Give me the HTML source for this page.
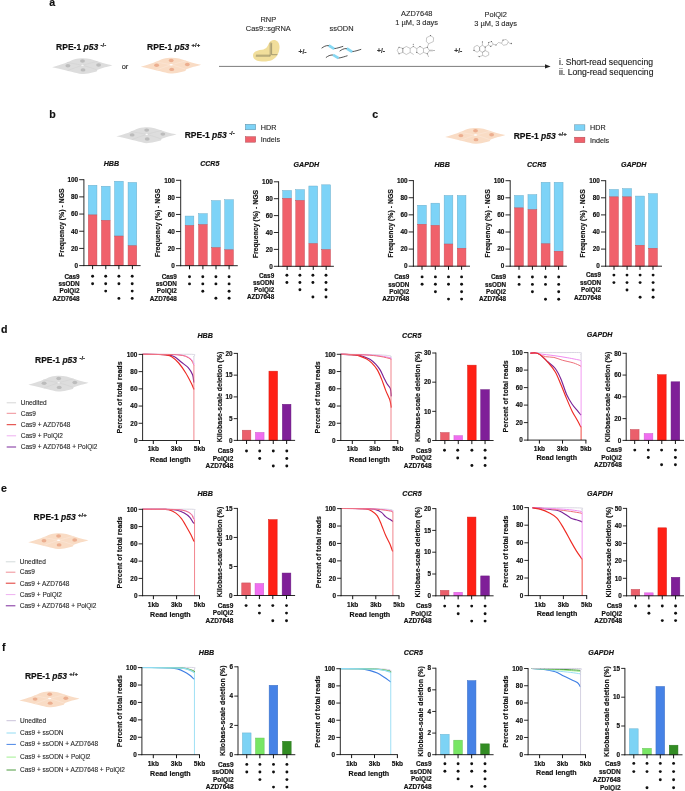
<!DOCTYPE html>
<html lang="en">
<head>
<meta charset="utf-8">
<title>Figure</title>
<style>html,body{margin:0;padding:0;background:#fff}svg{display:block}text{white-space:pre}</style>
</head>
<body>
<svg width="685" height="791" viewBox="0 0 685 791" font-family="'Liberation Sans', Arial, Helvetica, sans-serif" fill="#111111">
<rect width="685" height="791" fill="#ffffff"/>
<!-- panel a -->
<text x="49.2" y="5.9" font-size="10.6" font-weight="bold" stroke="#111111" stroke-width="0.17">a</text>
<text x="56.1" y="49.9" font-size="8.5" font-weight="bold" stroke="#111111" stroke-width="0.17">RPE-1 <tspan font-style="italic">p53</tspan> <tspan font-size="5.95" dy="-2.7">-/-</tspan></text>
<g transform="translate(82.5 65.9) scale(1.02)">
<path d="M-29.8 1.3 C-25 0 -21 -1.2 -17.9 -2.3 C-14 -3.8 -10.5 -5.6 -7.7 -6.5 C-5 -7.3 -2 -7.5 0.5 -7.5 C3 -7.5 5.5 -7.2 7.7 -6.7 C12 -5.6 16 -4 19.9 -2.8 C23 -1.9 26 -1.2 29.3 -0.7 C26.5 0.2 24 0.8 22 1.3 C19.5 2 17 2.9 14.8 3.7 C14.3 4.4 14.2 4.9 13.8 5.4 C12 6 9.8 6.5 7.7 6.9 C5 7.5 2 8 -0.5 8 C-4 7.6 -7.5 6.6 -10.7 5.7 C-13 5.1 -15.5 4.4 -17.9 3.9 C-22 3 -26 2.1 -29.8 1.3Z" fill="#dddddd"/>
<path d="M-15 -3.4 C-9 -2.2 -3.5 -1.4 0 -0.6 C5 0.6 9.5 2.2 14 3.8 M14.5 -4.4 C9.5 -3.2 4 -1.8 0 -0.6 C-4.5 0.8 -9.5 2.6 -14.5 4.5" fill="none" stroke="#d3d3d3" stroke-width="0.7"/>
<ellipse cx="0.0" cy="-4.8" rx="2.4" ry="1.65" fill="#bcbcbc"/>
<ellipse cx="-14.3" cy="-0.1" rx="2.4" ry="1.65" fill="#bcbcbc"/>
<ellipse cx="15.8" cy="-0.9" rx="2.4" ry="1.65" fill="#bcbcbc"/>
<ellipse cx="0.5" cy="3.9" rx="2.4" ry="1.65" fill="#bcbcbc"/>
<ellipse cx="0" cy="-0.65" rx="1.3" ry="0.6" fill="#ffffff"/>
</g>
<text x="125" y="69" font-size="7.5" text-anchor="middle" fill="#2a2a2a" stroke="#2a2a2a" stroke-width="0.12">or</text>
<text x="147.1" y="49.8" font-size="8.5" font-weight="bold" stroke="#111111" stroke-width="0.17">RPE-1 <tspan font-style="italic">p53</tspan> <tspan font-size="5.95" dy="-2.7">+/+</tspan></text>
<g transform="translate(171.2 65.4) scale(1.02)">
<path d="M-29.8 1.3 C-25 0 -21 -1.2 -17.9 -2.3 C-14 -3.8 -10.5 -5.6 -7.7 -6.5 C-5 -7.3 -2 -7.5 0.5 -7.5 C3 -7.5 5.5 -7.2 7.7 -6.7 C12 -5.6 16 -4 19.9 -2.8 C23 -1.9 26 -1.2 29.3 -0.7 C26.5 0.2 24 0.8 22 1.3 C19.5 2 17 2.9 14.8 3.7 C14.3 4.4 14.2 4.9 13.8 5.4 C12 6 9.8 6.5 7.7 6.9 C5 7.5 2 8 -0.5 8 C-4 7.6 -7.5 6.6 -10.7 5.7 C-13 5.1 -15.5 4.4 -17.9 3.9 C-22 3 -26 2.1 -29.8 1.3Z" fill="#f9dcc5"/>
<path d="M-15 -3.4 C-9 -2.2 -3.5 -1.4 0 -0.6 C5 0.6 9.5 2.2 14 3.8 M14.5 -4.4 C9.5 -3.2 4 -1.8 0 -0.6 C-4.5 0.8 -9.5 2.6 -14.5 4.5" fill="none" stroke="#fbe6d6" stroke-width="0.7"/>
<ellipse cx="0.0" cy="-4.8" rx="2.4" ry="1.65" fill="#ecae8f"/>
<ellipse cx="-14.3" cy="-0.1" rx="2.4" ry="1.65" fill="#ecae8f"/>
<ellipse cx="15.8" cy="-0.9" rx="2.4" ry="1.65" fill="#ecae8f"/>
<ellipse cx="0.5" cy="3.9" rx="2.4" ry="1.65" fill="#ecae8f"/>
<ellipse cx="0" cy="-0.65" rx="1.6" ry="0.75" fill="#ffffff"/>
</g>
<line x1="219" y1="66.4" x2="546" y2="66.4" stroke="#444" stroke-width="0.7"/>
<path d="M550.6 66.4 L545 64.2 L545 68.6Z" fill="#222"/>
<text x="268.3" y="21.7" font-size="7.45" text-anchor="middle" fill="#2a2a2a" stroke="#2a2a2a" stroke-width="0.12">RNP</text>
<text x="268.3" y="30.7" font-size="7.45" text-anchor="middle" fill="#2a2a2a" stroke="#2a2a2a" stroke-width="0.12">Cas9::sgRNA</text>
<path d="M253 55.5 C253 51.5 257.5 50.3 262 49.8 C266.5 49.2 267.6 46.4 268.8 43.6 C270 40.6 273.2 39.3 276 40.4 C279.2 41.7 280 45.6 279.3 49.6 C278.6 54 276.4 58 272.2 60 C267.5 62 260.5 61.8 256.6 60.4 C254.2 59.4 253 57.7 253 55.5Z" fill="#f1de9b"/>
<path d="M255.8 56.1 H270.2 V43.4 Q270.9 42.0 271.6 43.4 V54.7 H277.4" fill="none" stroke="#5a5848" stroke-width="0.5"/>
<path d="M256 55.1 H269.4" fill="none" stroke="#7a744e" stroke-width="1.0" stroke-dasharray="0.45 0.55"/>
<text x="302.5" y="53.6" font-size="6.8" font-weight="bold" text-anchor="middle" fill="#3a3a3a" stroke="#3a3a3a" stroke-width="0.17">+/-</text>
<text x="341.6" y="30.7" font-size="7.45" text-anchor="middle" fill="#2a2a2a" stroke="#2a2a2a" stroke-width="0.12">ssODN</text>
<path d="M321.6 48.2 C323.6 46.8 325.6 45.3 329 45.6" fill="none" stroke="#2a2a2a" stroke-width="0.8"/>
<path d="M334 48.7 C337.6 48.2 340.6 47.1 343.2 46.3" fill="none" stroke="#2a2a2a" stroke-width="0.8"/>
<path d="M328.8 45.5 L334.2 48.8" fill="none" stroke="#86d8f3" stroke-width="2.7"/>
<path d="M339.6 51.2 C341.6 49.8 343.6 48.3 347 48.6" fill="none" stroke="#2a2a2a" stroke-width="0.8"/>
<path d="M352 51.7 C355.6 51.2 358.6 50.1 361.2 49.3" fill="none" stroke="#2a2a2a" stroke-width="0.8"/>
<path d="M346.8 48.5 L352.2 51.8" fill="none" stroke="#86d8f3" stroke-width="2.7"/>
<path d="M325.9 57.6 C327.9 56.2 329.9 54.7 333.3 55" fill="none" stroke="#2a2a2a" stroke-width="0.8"/>
<path d="M338.3 58.1 C341.9 57.6 344.9 56.5 347.5 55.7" fill="none" stroke="#2a2a2a" stroke-width="0.8"/>
<path d="M333.1 54.9 L338.5 58.2" fill="none" stroke="#86d8f3" stroke-width="2.7"/>
<text x="381" y="53.4" font-size="6.8" font-weight="bold" text-anchor="middle" fill="#3a3a3a" stroke="#3a3a3a" stroke-width="0.17">+/-</text>
<text x="416.7" y="16" font-size="7.45" text-anchor="middle" fill="#2a2a2a" stroke="#2a2a2a" stroke-width="0.12">AZD7648</text>
<text x="416.7" y="24.5" font-size="7.45" text-anchor="middle" fill="#2a2a2a" stroke="#2a2a2a" stroke-width="0.12">1 µM, 3 days</text>
<path d="M397.2 50.3 L399 47.2 L402.8 48.4 L402.8 52.4 L399 53.8Z" fill="none" stroke="#7a7a7a" stroke-width="0.42" stroke-linejoin="round"/>
<path d="M402.8 48.4 L406.3 46.5 L410.2 48.4 L410.2 52.4 L406.3 54.5 L402.8 52.4Z" fill="none" stroke="#7a7a7a" stroke-width="0.42" stroke-linejoin="round"/>
<path d="M410.2 52.4 L413.7 54.5" fill="none" stroke="#7a7a7a" stroke-width="0.42" stroke-linejoin="round"/>
<path d="M410.2 48.4 L413.3 46.5 L416.8 48.6" fill="none" stroke="#7a7a7a" stroke-width="0.42" stroke-linejoin="round"/>
<path d="M416.8 48.6 L420 46.5 L423.5 48.6 L423.5 52.4 L420 54.5 L416.8 52.4Z" fill="none" stroke="#7a7a7a" stroke-width="0.42" stroke-linejoin="round"/>
<path d="M423.5 48.6 L427.3 47.2 L429.4 50.5 L427.3 53.8 L423.5 52.4" fill="none" stroke="#7a7a7a" stroke-width="0.42" stroke-linejoin="round"/>
<path d="M429.4 50.2 L432.9 50.2" fill="none" stroke="#7a7a7a" stroke-width="0.42" stroke-linejoin="round"/>
<path d="M429.4 50.9 L432.9 50.9" fill="none" stroke="#7a7a7a" stroke-width="0.42" stroke-linejoin="round"/>
<path d="M427.3 53.8 L428.7 57" fill="none" stroke="#7a7a7a" stroke-width="0.42" stroke-linejoin="round"/>
<path d="M427.3 47.2 L428.7 43.7" fill="none" stroke="#7a7a7a" stroke-width="0.42" stroke-linejoin="round"/>
<path d="M428.7 43.7 L426.3 41.6 L426.6 37.7 L430.5 35.6 L433.6 37.7 L433.3 41.6Z" fill="none" stroke="#7a7a7a" stroke-width="0.42" stroke-linejoin="round"/>
<circle cx="399" cy="47.2" r="0.55" fill="#5e5e5e"/>
<circle cx="399" cy="53.8" r="0.55" fill="#5e5e5e"/>
<circle cx="402.9" cy="48.5" r="0.55" fill="#5e5e5e"/>
<circle cx="413.3" cy="46.3" r="0.55" fill="#5e5e5e"/>
<circle cx="413.3" cy="44.3" r="0.55" fill="#5e5e5e"/>
<circle cx="420" cy="46.5" r="0.55" fill="#5e5e5e"/>
<circle cx="416.8" cy="52.4" r="0.55" fill="#5e5e5e"/>
<circle cx="427.3" cy="47.2" r="0.55" fill="#5e5e5e"/>
<circle cx="427.3" cy="53.8" r="0.55" fill="#5e5e5e"/>
<circle cx="434" cy="50.5" r="0.55" fill="#5e5e5e"/>
<circle cx="430.5" cy="35.6" r="0.55" fill="#5e5e5e"/>
<text x="458.3" y="53.4" font-size="6.8" font-weight="bold" text-anchor="middle" fill="#3a3a3a" stroke="#3a3a3a" stroke-width="0.17">+/-</text>
<text x="495.7" y="17.4" font-size="7.45" text-anchor="middle" fill="#2a2a2a" stroke="#2a2a2a" stroke-width="0.12">PolQi2</text>
<text x="495.7" y="25.7" font-size="7.45" text-anchor="middle" fill="#2a2a2a" stroke="#2a2a2a" stroke-width="0.12">3 µM, 3 days</text>
<path d="M474 47.1 L477.1 45.3 L479.6 47.1 L479.6 50.6 L477.1 52.2 L474 50.4Z" fill="none" stroke="#7a7a7a" stroke-width="0.42" stroke-linejoin="round"/>
<path d="M479.6 47.1 L482.4 45.3 L485.2 47.1 L485.2 50.6 L482.4 52.3 L479.6 50.6Z" fill="none" stroke="#7a7a7a" stroke-width="0.42" stroke-linejoin="round"/>
<path d="M482.4 45.3 L482.4 42.4" fill="none" stroke="#7a7a7a" stroke-width="0.42" stroke-linejoin="round"/>
<path d="M482.4 52.3 L485.2 50.6 L488.7 52.3 L488.7 55.1 L485.5 56.6 L482.7 55.5Z" fill="none" stroke="#7a7a7a" stroke-width="0.42" stroke-linejoin="round"/>
<path d="M482.7 55.5 L479.6 56.6 L477.8 56.2" fill="none" stroke="#7a7a7a" stroke-width="0.42" stroke-linejoin="round"/>
<path d="M485.2 47.1 L488.3 45" fill="none" stroke="#7a7a7a" stroke-width="0.42" stroke-linejoin="round"/>
<path d="M488.3 45 L488.7 42.5 L491.5 41.5 L493.2 44.3 L490.8 46.4Z" fill="none" stroke="#7a7a7a" stroke-width="0.42" stroke-linejoin="round"/>
<path d="M493.2 44.3 L496 45 L498.5 42.5 L501.6 43.2" fill="none" stroke="#7a7a7a" stroke-width="0.42" stroke-linejoin="round"/>
<path d="M501.6 43.2 L503 40.1 L506.2 39.4 L508.3 41.8 L506.9 44.6 L503.4 45.3Z" fill="none" stroke="#7a7a7a" stroke-width="0.42" stroke-linejoin="round"/>
<path d="M508.3 42.3 L510 43.5" fill="none" stroke="#7a7a7a" stroke-width="0.42" stroke-linejoin="round"/>
<circle cx="474" cy="50.4" r="0.55" fill="#5e5e5e"/>
<circle cx="482.4" cy="41.9" r="0.55" fill="#5e5e5e"/>
<circle cx="485.2" cy="47.1" r="0.55" fill="#5e5e5e"/>
<circle cx="488.7" cy="42.5" r="0.55" fill="#5e5e5e"/>
<circle cx="491.5" cy="41.5" r="0.55" fill="#5e5e5e"/>
<circle cx="490.8" cy="46.4" r="0.55" fill="#5e5e5e"/>
<circle cx="496" cy="45" r="0.55" fill="#5e5e5e"/>
<circle cx="503" cy="40.1" r="0.55" fill="#5e5e5e"/>
<circle cx="479.3" cy="56.6" r="0.55" fill="#5e5e5e"/>
<circle cx="511.2" cy="43.6" r="0.75" fill="#5e5e5e"/>
<text x="559" y="64.9" font-size="8.65" fill="#222" stroke="#222" stroke-width="0.12">i. Short-read sequencing</text>
<text x="559" y="75.1" font-size="8.65" fill="#222" stroke="#222" stroke-width="0.12">ii. Long-read sequencing</text>
<!-- panel b -->
<text x="49.2" y="117.5" font-size="10.6" font-weight="bold" stroke="#111111" stroke-width="0.17">b</text>
<g transform="translate(146.7 135) scale(1.02)">
<path d="M-29.8 1.3 C-25 0 -21 -1.2 -17.9 -2.3 C-14 -3.8 -10.5 -5.6 -7.7 -6.5 C-5 -7.3 -2 -7.5 0.5 -7.5 C3 -7.5 5.5 -7.2 7.7 -6.7 C12 -5.6 16 -4 19.9 -2.8 C23 -1.9 26 -1.2 29.3 -0.7 C26.5 0.2 24 0.8 22 1.3 C19.5 2 17 2.9 14.8 3.7 C14.3 4.4 14.2 4.9 13.8 5.4 C12 6 9.8 6.5 7.7 6.9 C5 7.5 2 8 -0.5 8 C-4 7.6 -7.5 6.6 -10.7 5.7 C-13 5.1 -15.5 4.4 -17.9 3.9 C-22 3 -26 2.1 -29.8 1.3Z" fill="#dddddd"/>
<path d="M-15 -3.4 C-9 -2.2 -3.5 -1.4 0 -0.6 C5 0.6 9.5 2.2 14 3.8 M14.5 -4.4 C9.5 -3.2 4 -1.8 0 -0.6 C-4.5 0.8 -9.5 2.6 -14.5 4.5" fill="none" stroke="#d3d3d3" stroke-width="0.7"/>
<ellipse cx="0.0" cy="-4.8" rx="2.4" ry="1.65" fill="#bcbcbc"/>
<ellipse cx="-14.3" cy="-0.1" rx="2.4" ry="1.65" fill="#bcbcbc"/>
<ellipse cx="15.8" cy="-0.9" rx="2.4" ry="1.65" fill="#bcbcbc"/>
<ellipse cx="0.5" cy="3.9" rx="2.4" ry="1.65" fill="#bcbcbc"/>
<ellipse cx="0" cy="-0.65" rx="1.3" ry="0.6" fill="#ffffff"/>
</g>
<text x="184.7" y="137.7" font-size="8.5" font-weight="bold" stroke="#111111" stroke-width="0.17">RPE-1 <tspan font-style="italic">p53</tspan> <tspan font-size="5.95" dy="-2.7">-/-</tspan></text>
<rect x="245.4" y="124.3" width="10.3" height="5.5" fill="#7dd3f7" stroke="#567f93" stroke-width="0.45"/>
<text x="260.8" y="129.7" font-size="7.2" fill="#222" stroke="#222" stroke-width="0.12">HDR</text>
<rect x="245.4" y="136.7" width="10.3" height="5.5" fill="#f0616b" stroke="#a8464f" stroke-width="0.45"/>
<text x="260.8" y="142" font-size="7.2" fill="#222" stroke="#222" stroke-width="0.12">Indels</text>
<rect x="88.25" y="185.26" width="8.7" height="29.66" fill="#7dd3f7" stroke="#68a9c6" stroke-width="0.45"/>
<rect x="88.25" y="214.92" width="8.7" height="50.68" fill="#f0616b" stroke="#c4505a" stroke-width="0.45"/>
<rect x="101.45" y="186.21" width="8.7" height="34.12" fill="#7dd3f7" stroke="#68a9c6" stroke-width="0.45"/>
<rect x="101.45" y="220.33" width="8.7" height="45.27" fill="#f0616b" stroke="#c4505a" stroke-width="0.45"/>
<rect x="114.55" y="181.22" width="8.7" height="54.83" fill="#7dd3f7" stroke="#68a9c6" stroke-width="0.45"/>
<rect x="114.55" y="236.05" width="8.7" height="29.55" fill="#f0616b" stroke="#c4505a" stroke-width="0.45"/>
<rect x="128.05" y="182.43" width="8.7" height="63.33" fill="#7dd3f7" stroke="#68a9c6" stroke-width="0.45"/>
<rect x="128.05" y="245.76" width="8.7" height="19.84" fill="#f0616b" stroke="#c4505a" stroke-width="0.45"/>
<line x1="83.9" y1="179.25" x2="83.9" y2="266.05" stroke="#111111" stroke-width="0.9"/>
<line x1="83.45" y1="265.6" x2="140.6" y2="265.6" stroke="#111111" stroke-width="0.9"/>
<line x1="79.2" y1="265.6" x2="83.9" y2="265.6" stroke="#111111" stroke-width="0.9"/>
<text x="78.05" y="267.89" font-size="6.4" font-weight="bold" text-anchor="end" stroke="#111111" stroke-width="0.17">0</text>
<line x1="79.2" y1="248.42" x2="83.9" y2="248.42" stroke="#111111" stroke-width="0.9"/>
<text x="78.05" y="250.71" font-size="6.4" font-weight="bold" text-anchor="end" stroke="#111111" stroke-width="0.17">20</text>
<line x1="79.2" y1="231.24" x2="83.9" y2="231.24" stroke="#111111" stroke-width="0.9"/>
<text x="78.05" y="233.53" font-size="6.4" font-weight="bold" text-anchor="end" stroke="#111111" stroke-width="0.17">40</text>
<line x1="79.2" y1="214.06" x2="83.9" y2="214.06" stroke="#111111" stroke-width="0.9"/>
<text x="78.05" y="216.35" font-size="6.4" font-weight="bold" text-anchor="end" stroke="#111111" stroke-width="0.17">60</text>
<line x1="79.2" y1="196.88" x2="83.9" y2="196.88" stroke="#111111" stroke-width="0.9"/>
<text x="78.05" y="199.17" font-size="6.4" font-weight="bold" text-anchor="end" stroke="#111111" stroke-width="0.17">80</text>
<line x1="79.2" y1="179.7" x2="83.9" y2="179.7" stroke="#111111" stroke-width="0.9"/>
<text x="78.05" y="181.99" font-size="6.4" font-weight="bold" text-anchor="end" stroke="#111111" stroke-width="0.17">100</text>
<text x="63.55" y="222.65" font-size="6.9" font-weight="bold" text-anchor="middle" transform="rotate(-90 63.55 222.65)" stroke="#111111" stroke-width="0.17">Frequency (%) - NGS</text>
<line x1="92.6" y1="265.6" x2="92.6" y2="269.2" stroke="#111111" stroke-width="1"/>
<line x1="105.8" y1="265.6" x2="105.8" y2="269.2" stroke="#111111" stroke-width="1"/>
<line x1="118.9" y1="265.6" x2="118.9" y2="269.2" stroke="#111111" stroke-width="1"/>
<line x1="132.4" y1="265.6" x2="132.4" y2="269.2" stroke="#111111" stroke-width="1"/>
<text x="111.4" y="166.2" font-size="7.1" font-weight="bold" text-anchor="middle" font-style="italic" stroke="#111111" stroke-width="0.17">HBB</text>
<text x="79.6" y="278.57" font-size="6.35" font-weight="bold" text-anchor="end" stroke="#111111" stroke-width="0.17">Cas9</text>
<circle cx="92.6" cy="276.3" r="1.45" fill="#111"/>
<circle cx="105.7" cy="276.3" r="1.45" fill="#111"/>
<circle cx="118.9" cy="276.3" r="1.45" fill="#111"/>
<circle cx="132.2" cy="276.3" r="1.45" fill="#111"/>
<text x="79.6" y="285.97" font-size="6.35" font-weight="bold" text-anchor="end" stroke="#111111" stroke-width="0.17">ssODN</text>
<circle cx="92.6" cy="283.7" r="1.45" fill="#111"/>
<circle cx="105.7" cy="283.7" r="1.45" fill="#111"/>
<circle cx="118.9" cy="283.7" r="1.45" fill="#111"/>
<circle cx="132.2" cy="283.7" r="1.45" fill="#111"/>
<text x="79.6" y="293.37" font-size="6.35" font-weight="bold" text-anchor="end" stroke="#111111" stroke-width="0.17">PolQi2</text>
<circle cx="105.7" cy="291.1" r="1.45" fill="#111"/>
<circle cx="132.2" cy="291.1" r="1.45" fill="#111"/>
<text x="79.6" y="300.67" font-size="6.35" font-weight="bold" text-anchor="end" stroke="#111111" stroke-width="0.17">AZD7648</text>
<circle cx="118.9" cy="298.4" r="1.45" fill="#111"/>
<circle cx="132.2" cy="298.4" r="1.45" fill="#111"/>
<rect x="185.15" y="216.06" width="8.7" height="9.41" fill="#7dd3f7" stroke="#68a9c6" stroke-width="0.45"/>
<rect x="185.15" y="225.48" width="8.7" height="40.22" fill="#f0616b" stroke="#c4505a" stroke-width="0.45"/>
<rect x="198.55" y="213.67" width="8.7" height="10.95" fill="#7dd3f7" stroke="#68a9c6" stroke-width="0.45"/>
<rect x="198.55" y="224.62" width="8.7" height="41.08" fill="#f0616b" stroke="#c4505a" stroke-width="0.45"/>
<rect x="211.65" y="200.6" width="8.7" height="46.99" fill="#7dd3f7" stroke="#68a9c6" stroke-width="0.45"/>
<rect x="211.65" y="247.6" width="8.7" height="18.1" fill="#f0616b" stroke="#c4505a" stroke-width="0.45"/>
<rect x="224.75" y="199.75" width="8.7" height="50.07" fill="#7dd3f7" stroke="#68a9c6" stroke-width="0.45"/>
<rect x="224.75" y="249.82" width="8.7" height="15.88" fill="#f0616b" stroke="#c4505a" stroke-width="0.45"/>
<line x1="180.7" y1="179.85" x2="180.7" y2="266.15" stroke="#111111" stroke-width="0.9"/>
<line x1="180.25" y1="265.7" x2="237.8" y2="265.7" stroke="#111111" stroke-width="0.9"/>
<line x1="176" y1="265.7" x2="180.7" y2="265.7" stroke="#111111" stroke-width="0.9"/>
<text x="174.85" y="267.99" font-size="6.4" font-weight="bold" text-anchor="end" stroke="#111111" stroke-width="0.17">0</text>
<line x1="176" y1="248.62" x2="180.7" y2="248.62" stroke="#111111" stroke-width="0.9"/>
<text x="174.85" y="250.91" font-size="6.4" font-weight="bold" text-anchor="end" stroke="#111111" stroke-width="0.17">20</text>
<line x1="176" y1="231.54" x2="180.7" y2="231.54" stroke="#111111" stroke-width="0.9"/>
<text x="174.85" y="233.83" font-size="6.4" font-weight="bold" text-anchor="end" stroke="#111111" stroke-width="0.17">40</text>
<line x1="176" y1="214.46" x2="180.7" y2="214.46" stroke="#111111" stroke-width="0.9"/>
<text x="174.85" y="216.75" font-size="6.4" font-weight="bold" text-anchor="end" stroke="#111111" stroke-width="0.17">60</text>
<line x1="176" y1="197.38" x2="180.7" y2="197.38" stroke="#111111" stroke-width="0.9"/>
<text x="174.85" y="199.67" font-size="6.4" font-weight="bold" text-anchor="end" stroke="#111111" stroke-width="0.17">80</text>
<line x1="176" y1="180.3" x2="180.7" y2="180.3" stroke="#111111" stroke-width="0.9"/>
<text x="174.85" y="182.59" font-size="6.4" font-weight="bold" text-anchor="end" stroke="#111111" stroke-width="0.17">100</text>
<text x="160.35" y="223" font-size="6.9" font-weight="bold" text-anchor="middle" transform="rotate(-90 160.35 223)" stroke="#111111" stroke-width="0.17">Frequency (%) - NGS</text>
<line x1="189.5" y1="265.7" x2="189.5" y2="269.3" stroke="#111111" stroke-width="1"/>
<line x1="202.9" y1="265.7" x2="202.9" y2="269.3" stroke="#111111" stroke-width="1"/>
<line x1="216" y1="265.7" x2="216" y2="269.3" stroke="#111111" stroke-width="1"/>
<line x1="229.1" y1="265.7" x2="229.1" y2="269.3" stroke="#111111" stroke-width="1"/>
<text x="209.8" y="166.2" font-size="7.1" font-weight="bold" text-anchor="middle" font-style="italic" stroke="#111111" stroke-width="0.17">CCR5</text>
<text x="176.9" y="279.07" font-size="6.35" font-weight="bold" text-anchor="end" stroke="#111111" stroke-width="0.17">Cas9</text>
<circle cx="189.5" cy="276.8" r="1.45" fill="#111"/>
<circle cx="202.8" cy="276.8" r="1.45" fill="#111"/>
<circle cx="215.9" cy="276.8" r="1.45" fill="#111"/>
<circle cx="229.1" cy="276.8" r="1.45" fill="#111"/>
<text x="176.9" y="286.17" font-size="6.35" font-weight="bold" text-anchor="end" stroke="#111111" stroke-width="0.17">ssODN</text>
<circle cx="189.5" cy="283.9" r="1.45" fill="#111"/>
<circle cx="202.8" cy="283.9" r="1.45" fill="#111"/>
<circle cx="215.9" cy="283.9" r="1.45" fill="#111"/>
<circle cx="229.1" cy="283.9" r="1.45" fill="#111"/>
<text x="176.9" y="293.47" font-size="6.35" font-weight="bold" text-anchor="end" stroke="#111111" stroke-width="0.17">PolQi2</text>
<circle cx="202.8" cy="291.2" r="1.45" fill="#111"/>
<circle cx="229.1" cy="291.2" r="1.45" fill="#111"/>
<text x="176.9" y="300.57" font-size="6.35" font-weight="bold" text-anchor="end" stroke="#111111" stroke-width="0.17">AZD7648</text>
<circle cx="215.9" cy="298.3" r="1.45" fill="#111"/>
<circle cx="229.1" cy="298.3" r="1.45" fill="#111"/>
<rect x="282.75" y="190.48" width="8.8" height="7.88" fill="#7dd3f7" stroke="#68a9c6" stroke-width="0.45"/>
<rect x="282.75" y="198.36" width="8.8" height="67.94" fill="#f0616b" stroke="#c4505a" stroke-width="0.45"/>
<rect x="295.75" y="189.64" width="8.8" height="10.75" fill="#7dd3f7" stroke="#68a9c6" stroke-width="0.45"/>
<rect x="295.75" y="200.39" width="8.8" height="65.91" fill="#f0616b" stroke="#c4505a" stroke-width="0.45"/>
<rect x="308.85" y="186.01" width="8.8" height="57.56" fill="#7dd3f7" stroke="#68a9c6" stroke-width="0.45"/>
<rect x="308.85" y="243.57" width="8.8" height="22.73" fill="#f0616b" stroke="#c4505a" stroke-width="0.45"/>
<rect x="321.75" y="184.82" width="8.8" height="64.75" fill="#7dd3f7" stroke="#68a9c6" stroke-width="0.45"/>
<rect x="321.75" y="249.57" width="8.8" height="16.73" fill="#f0616b" stroke="#c4505a" stroke-width="0.45"/>
<line x1="278.6" y1="181.35" x2="278.6" y2="266.75" stroke="#111111" stroke-width="0.9"/>
<line x1="278.15" y1="266.3" x2="333.9" y2="266.3" stroke="#111111" stroke-width="0.9"/>
<line x1="273.9" y1="266.3" x2="278.6" y2="266.3" stroke="#111111" stroke-width="0.9"/>
<text x="272.75" y="268.59" font-size="6.4" font-weight="bold" text-anchor="end" stroke="#111111" stroke-width="0.17">0</text>
<line x1="273.9" y1="249.4" x2="278.6" y2="249.4" stroke="#111111" stroke-width="0.9"/>
<text x="272.75" y="251.69" font-size="6.4" font-weight="bold" text-anchor="end" stroke="#111111" stroke-width="0.17">20</text>
<line x1="273.9" y1="232.5" x2="278.6" y2="232.5" stroke="#111111" stroke-width="0.9"/>
<text x="272.75" y="234.79" font-size="6.4" font-weight="bold" text-anchor="end" stroke="#111111" stroke-width="0.17">40</text>
<line x1="273.9" y1="215.6" x2="278.6" y2="215.6" stroke="#111111" stroke-width="0.9"/>
<text x="272.75" y="217.89" font-size="6.4" font-weight="bold" text-anchor="end" stroke="#111111" stroke-width="0.17">60</text>
<line x1="273.9" y1="198.7" x2="278.6" y2="198.7" stroke="#111111" stroke-width="0.9"/>
<text x="272.75" y="200.99" font-size="6.4" font-weight="bold" text-anchor="end" stroke="#111111" stroke-width="0.17">80</text>
<line x1="273.9" y1="181.8" x2="278.6" y2="181.8" stroke="#111111" stroke-width="0.9"/>
<text x="272.75" y="184.09" font-size="6.4" font-weight="bold" text-anchor="end" stroke="#111111" stroke-width="0.17">100</text>
<text x="258.25" y="224.05" font-size="6.9" font-weight="bold" text-anchor="middle" transform="rotate(-90 258.25 224.05)" stroke="#111111" stroke-width="0.17">Frequency (%) - NGS</text>
<line x1="287.15" y1="266.3" x2="287.15" y2="269.9" stroke="#111111" stroke-width="1"/>
<line x1="300.15" y1="266.3" x2="300.15" y2="269.9" stroke="#111111" stroke-width="1"/>
<line x1="313.25" y1="266.3" x2="313.25" y2="269.9" stroke="#111111" stroke-width="1"/>
<line x1="326.15" y1="266.3" x2="326.15" y2="269.9" stroke="#111111" stroke-width="1"/>
<text x="306.4" y="166.7" font-size="7.1" font-weight="bold" text-anchor="middle" font-style="italic" stroke="#111111" stroke-width="0.17">GAPDH</text>
<text x="274.2" y="277.57" font-size="6.35" font-weight="bold" text-anchor="end" stroke="#111111" stroke-width="0.17">Cas9</text>
<circle cx="286.9" cy="275.3" r="1.45" fill="#111"/>
<circle cx="299.9" cy="275.3" r="1.45" fill="#111"/>
<circle cx="312.9" cy="275.3" r="1.45" fill="#111"/>
<circle cx="326" cy="275.3" r="1.45" fill="#111"/>
<text x="274.2" y="284.77" font-size="6.35" font-weight="bold" text-anchor="end" stroke="#111111" stroke-width="0.17">ssODN</text>
<circle cx="286.9" cy="282.5" r="1.45" fill="#111"/>
<circle cx="299.9" cy="282.5" r="1.45" fill="#111"/>
<circle cx="312.9" cy="282.5" r="1.45" fill="#111"/>
<circle cx="326" cy="282.5" r="1.45" fill="#111"/>
<text x="274.2" y="292.07" font-size="6.35" font-weight="bold" text-anchor="end" stroke="#111111" stroke-width="0.17">PolQi2</text>
<circle cx="299.9" cy="289.8" r="1.45" fill="#111"/>
<circle cx="326" cy="289.8" r="1.45" fill="#111"/>
<text x="274.2" y="299.27" font-size="6.35" font-weight="bold" text-anchor="end" stroke="#111111" stroke-width="0.17">AZD7648</text>
<circle cx="312.9" cy="297" r="1.45" fill="#111"/>
<circle cx="326" cy="297" r="1.45" fill="#111"/>
<!-- panel c -->
<text x="372.3" y="118" font-size="10.6" font-weight="bold" stroke="#111111" stroke-width="0.17">c</text>
<g transform="translate(475.5 135.7) scale(1.02)">
<path d="M-29.8 1.3 C-25 0 -21 -1.2 -17.9 -2.3 C-14 -3.8 -10.5 -5.6 -7.7 -6.5 C-5 -7.3 -2 -7.5 0.5 -7.5 C3 -7.5 5.5 -7.2 7.7 -6.7 C12 -5.6 16 -4 19.9 -2.8 C23 -1.9 26 -1.2 29.3 -0.7 C26.5 0.2 24 0.8 22 1.3 C19.5 2 17 2.9 14.8 3.7 C14.3 4.4 14.2 4.9 13.8 5.4 C12 6 9.8 6.5 7.7 6.9 C5 7.5 2 8 -0.5 8 C-4 7.6 -7.5 6.6 -10.7 5.7 C-13 5.1 -15.5 4.4 -17.9 3.9 C-22 3 -26 2.1 -29.8 1.3Z" fill="#f9dcc5"/>
<path d="M-15 -3.4 C-9 -2.2 -3.5 -1.4 0 -0.6 C5 0.6 9.5 2.2 14 3.8 M14.5 -4.4 C9.5 -3.2 4 -1.8 0 -0.6 C-4.5 0.8 -9.5 2.6 -14.5 4.5" fill="none" stroke="#fbe6d6" stroke-width="0.7"/>
<ellipse cx="0.0" cy="-4.8" rx="2.4" ry="1.65" fill="#ecae8f"/>
<ellipse cx="-14.3" cy="-0.1" rx="2.4" ry="1.65" fill="#ecae8f"/>
<ellipse cx="15.8" cy="-0.9" rx="2.4" ry="1.65" fill="#ecae8f"/>
<ellipse cx="0.5" cy="3.9" rx="2.4" ry="1.65" fill="#ecae8f"/>
<ellipse cx="0" cy="-0.65" rx="1.6" ry="0.75" fill="#ffffff"/>
</g>
<text x="513.7" y="138.7" font-size="8.5" font-weight="bold" stroke="#111111" stroke-width="0.17">RPE-1 <tspan font-style="italic">p53</tspan> <tspan font-size="5.95" dy="-2.7">+/+</tspan></text>
<rect x="574.6" y="124.8" width="10.3" height="5.5" fill="#7dd3f7" stroke="#567f93" stroke-width="0.45"/>
<text x="590" y="130.2" font-size="7.2" fill="#222" stroke="#222" stroke-width="0.12">HDR</text>
<rect x="574.6" y="137.2" width="10.3" height="5.5" fill="#f0616b" stroke="#a8464f" stroke-width="0.45"/>
<text x="590" y="142.5" font-size="7.2" fill="#222" stroke="#222" stroke-width="0.12">Indels</text>
<rect x="417.65" y="205.23" width="8.7" height="19.02" fill="#7dd3f7" stroke="#68a9c6" stroke-width="0.45"/>
<rect x="417.65" y="224.26" width="8.7" height="41.94" fill="#f0616b" stroke="#c4505a" stroke-width="0.45"/>
<rect x="430.95" y="203.18" width="8.7" height="22.19" fill="#7dd3f7" stroke="#68a9c6" stroke-width="0.45"/>
<rect x="430.95" y="225.37" width="8.7" height="40.83" fill="#f0616b" stroke="#c4505a" stroke-width="0.45"/>
<rect x="444.15" y="195.47" width="8.7" height="48.56" fill="#7dd3f7" stroke="#68a9c6" stroke-width="0.45"/>
<rect x="444.15" y="244.03" width="8.7" height="22.17" fill="#f0616b" stroke="#c4505a" stroke-width="0.45"/>
<rect x="457.25" y="195.47" width="8.7" height="52.75" fill="#7dd3f7" stroke="#68a9c6" stroke-width="0.45"/>
<rect x="457.25" y="248.22" width="8.7" height="17.98" fill="#f0616b" stroke="#c4505a" stroke-width="0.45"/>
<line x1="413.4" y1="180.15" x2="413.4" y2="266.65" stroke="#111111" stroke-width="0.9"/>
<line x1="412.95" y1="266.2" x2="470" y2="266.2" stroke="#111111" stroke-width="0.9"/>
<line x1="408.7" y1="266.2" x2="413.4" y2="266.2" stroke="#111111" stroke-width="0.9"/>
<text x="407.55" y="268.49" font-size="6.4" font-weight="bold" text-anchor="end" stroke="#111111" stroke-width="0.17">0</text>
<line x1="408.7" y1="249.08" x2="413.4" y2="249.08" stroke="#111111" stroke-width="0.9"/>
<text x="407.55" y="251.37" font-size="6.4" font-weight="bold" text-anchor="end" stroke="#111111" stroke-width="0.17">20</text>
<line x1="408.7" y1="231.96" x2="413.4" y2="231.96" stroke="#111111" stroke-width="0.9"/>
<text x="407.55" y="234.25" font-size="6.4" font-weight="bold" text-anchor="end" stroke="#111111" stroke-width="0.17">40</text>
<line x1="408.7" y1="214.84" x2="413.4" y2="214.84" stroke="#111111" stroke-width="0.9"/>
<text x="407.55" y="217.13" font-size="6.4" font-weight="bold" text-anchor="end" stroke="#111111" stroke-width="0.17">60</text>
<line x1="408.7" y1="197.72" x2="413.4" y2="197.72" stroke="#111111" stroke-width="0.9"/>
<text x="407.55" y="200.01" font-size="6.4" font-weight="bold" text-anchor="end" stroke="#111111" stroke-width="0.17">80</text>
<line x1="408.7" y1="180.6" x2="413.4" y2="180.6" stroke="#111111" stroke-width="0.9"/>
<text x="407.55" y="182.89" font-size="6.4" font-weight="bold" text-anchor="end" stroke="#111111" stroke-width="0.17">100</text>
<text x="393.05" y="223.4" font-size="6.9" font-weight="bold" text-anchor="middle" transform="rotate(-90 393.05 223.4)" stroke="#111111" stroke-width="0.17">Frequency (%) - NGS</text>
<line x1="422" y1="266.2" x2="422" y2="269.8" stroke="#111111" stroke-width="1"/>
<line x1="435.3" y1="266.2" x2="435.3" y2="269.8" stroke="#111111" stroke-width="1"/>
<line x1="448.5" y1="266.2" x2="448.5" y2="269.8" stroke="#111111" stroke-width="1"/>
<line x1="461.6" y1="266.2" x2="461.6" y2="269.8" stroke="#111111" stroke-width="1"/>
<text x="442.2" y="166.6" font-size="7.1" font-weight="bold" text-anchor="middle" font-style="italic" stroke="#111111" stroke-width="0.17">HBB</text>
<text x="409.3" y="279.17" font-size="6.35" font-weight="bold" text-anchor="end" stroke="#111111" stroke-width="0.17">Cas9</text>
<circle cx="422.1" cy="276.9" r="1.45" fill="#111"/>
<circle cx="435.4" cy="276.9" r="1.45" fill="#111"/>
<circle cx="448.5" cy="276.9" r="1.45" fill="#111"/>
<circle cx="461.6" cy="276.9" r="1.45" fill="#111"/>
<text x="409.3" y="286.57" font-size="6.35" font-weight="bold" text-anchor="end" stroke="#111111" stroke-width="0.17">ssODN</text>
<circle cx="422.1" cy="284.3" r="1.45" fill="#111"/>
<circle cx="435.4" cy="284.3" r="1.45" fill="#111"/>
<circle cx="448.5" cy="284.3" r="1.45" fill="#111"/>
<circle cx="461.6" cy="284.3" r="1.45" fill="#111"/>
<text x="409.3" y="293.97" font-size="6.35" font-weight="bold" text-anchor="end" stroke="#111111" stroke-width="0.17">PolQi2</text>
<circle cx="435.4" cy="291.7" r="1.45" fill="#111"/>
<circle cx="461.6" cy="291.7" r="1.45" fill="#111"/>
<text x="409.3" y="301.37" font-size="6.35" font-weight="bold" text-anchor="end" stroke="#111111" stroke-width="0.17">AZD7648</text>
<circle cx="448.5" cy="299.1" r="1.45" fill="#111"/>
<circle cx="461.6" cy="299.1" r="1.45" fill="#111"/>
<rect x="514.55" y="195.47" width="8.9" height="12.42" fill="#7dd3f7" stroke="#68a9c6" stroke-width="0.45"/>
<rect x="514.55" y="207.89" width="8.9" height="58.31" fill="#f0616b" stroke="#c4505a" stroke-width="0.45"/>
<rect x="527.95" y="194.62" width="8.9" height="15.07" fill="#7dd3f7" stroke="#68a9c6" stroke-width="0.45"/>
<rect x="527.95" y="209.68" width="8.9" height="56.52" fill="#f0616b" stroke="#c4505a" stroke-width="0.45"/>
<rect x="541.15" y="182.3" width="8.9" height="61.5" fill="#7dd3f7" stroke="#68a9c6" stroke-width="0.45"/>
<rect x="541.15" y="243.8" width="8.9" height="22.4" fill="#f0616b" stroke="#c4505a" stroke-width="0.45"/>
<rect x="554.15" y="182.3" width="8.9" height="68.93" fill="#7dd3f7" stroke="#68a9c6" stroke-width="0.45"/>
<rect x="554.15" y="251.24" width="8.9" height="14.96" fill="#f0616b" stroke="#c4505a" stroke-width="0.45"/>
<line x1="510.2" y1="180.25" x2="510.2" y2="266.65" stroke="#111111" stroke-width="0.9"/>
<line x1="509.75" y1="266.2" x2="566.9" y2="266.2" stroke="#111111" stroke-width="0.9"/>
<line x1="505.5" y1="266.2" x2="510.2" y2="266.2" stroke="#111111" stroke-width="0.9"/>
<text x="504.35" y="268.49" font-size="6.4" font-weight="bold" text-anchor="end" stroke="#111111" stroke-width="0.17">0</text>
<line x1="505.5" y1="249.1" x2="510.2" y2="249.1" stroke="#111111" stroke-width="0.9"/>
<text x="504.35" y="251.39" font-size="6.4" font-weight="bold" text-anchor="end" stroke="#111111" stroke-width="0.17">20</text>
<line x1="505.5" y1="232" x2="510.2" y2="232" stroke="#111111" stroke-width="0.9"/>
<text x="504.35" y="234.29" font-size="6.4" font-weight="bold" text-anchor="end" stroke="#111111" stroke-width="0.17">40</text>
<line x1="505.5" y1="214.9" x2="510.2" y2="214.9" stroke="#111111" stroke-width="0.9"/>
<text x="504.35" y="217.19" font-size="6.4" font-weight="bold" text-anchor="end" stroke="#111111" stroke-width="0.17">60</text>
<line x1="505.5" y1="197.8" x2="510.2" y2="197.8" stroke="#111111" stroke-width="0.9"/>
<text x="504.35" y="200.09" font-size="6.4" font-weight="bold" text-anchor="end" stroke="#111111" stroke-width="0.17">80</text>
<line x1="505.5" y1="180.7" x2="510.2" y2="180.7" stroke="#111111" stroke-width="0.9"/>
<text x="504.35" y="182.99" font-size="6.4" font-weight="bold" text-anchor="end" stroke="#111111" stroke-width="0.17">100</text>
<text x="489.85" y="223.45" font-size="6.9" font-weight="bold" text-anchor="middle" transform="rotate(-90 489.85 223.45)" stroke="#111111" stroke-width="0.17">Frequency (%) - NGS</text>
<line x1="519" y1="266.2" x2="519" y2="269.8" stroke="#111111" stroke-width="1"/>
<line x1="532.4" y1="266.2" x2="532.4" y2="269.8" stroke="#111111" stroke-width="1"/>
<line x1="545.6" y1="266.2" x2="545.6" y2="269.8" stroke="#111111" stroke-width="1"/>
<line x1="558.6" y1="266.2" x2="558.6" y2="269.8" stroke="#111111" stroke-width="1"/>
<text x="536.6" y="166.6" font-size="7.1" font-weight="bold" text-anchor="middle" font-style="italic" stroke="#111111" stroke-width="0.17">CCR5</text>
<text x="506.1" y="279.27" font-size="6.35" font-weight="bold" text-anchor="end" stroke="#111111" stroke-width="0.17">Cas9</text>
<circle cx="519.1" cy="277" r="1.45" fill="#111"/>
<circle cx="532.4" cy="277" r="1.45" fill="#111"/>
<circle cx="545.5" cy="277" r="1.45" fill="#111"/>
<circle cx="558.7" cy="277" r="1.45" fill="#111"/>
<text x="506.1" y="286.67" font-size="6.35" font-weight="bold" text-anchor="end" stroke="#111111" stroke-width="0.17">ssODN</text>
<circle cx="519.1" cy="284.4" r="1.45" fill="#111"/>
<circle cx="532.4" cy="284.4" r="1.45" fill="#111"/>
<circle cx="545.5" cy="284.4" r="1.45" fill="#111"/>
<circle cx="558.7" cy="284.4" r="1.45" fill="#111"/>
<text x="506.1" y="294.07" font-size="6.35" font-weight="bold" text-anchor="end" stroke="#111111" stroke-width="0.17">PolQi2</text>
<circle cx="532.4" cy="291.8" r="1.45" fill="#111"/>
<circle cx="558.7" cy="291.8" r="1.45" fill="#111"/>
<text x="506.1" y="301.47" font-size="6.35" font-weight="bold" text-anchor="end" stroke="#111111" stroke-width="0.17">AZD7648</text>
<circle cx="545.5" cy="299.2" r="1.45" fill="#111"/>
<circle cx="558.7" cy="299.2" r="1.45" fill="#111"/>
<rect x="609.55" y="189.49" width="8.9" height="7.37" fill="#7dd3f7" stroke="#68a9c6" stroke-width="0.45"/>
<rect x="609.55" y="196.86" width="8.9" height="69.34" fill="#f0616b" stroke="#c4505a" stroke-width="0.45"/>
<rect x="622.65" y="188.63" width="8.9" height="8.23" fill="#7dd3f7" stroke="#68a9c6" stroke-width="0.45"/>
<rect x="622.65" y="196.86" width="8.9" height="69.34" fill="#f0616b" stroke="#c4505a" stroke-width="0.45"/>
<rect x="635.55" y="196.07" width="8.9" height="49.18" fill="#7dd3f7" stroke="#68a9c6" stroke-width="0.45"/>
<rect x="635.55" y="245.25" width="8.9" height="20.95" fill="#f0616b" stroke="#c4505a" stroke-width="0.45"/>
<rect x="648.55" y="193.67" width="8.9" height="54.57" fill="#7dd3f7" stroke="#68a9c6" stroke-width="0.45"/>
<rect x="648.55" y="248.25" width="8.9" height="17.95" fill="#f0616b" stroke="#c4505a" stroke-width="0.45"/>
<line x1="605.7" y1="180.25" x2="605.7" y2="266.65" stroke="#111111" stroke-width="0.9"/>
<line x1="605.25" y1="266.2" x2="662" y2="266.2" stroke="#111111" stroke-width="0.9"/>
<line x1="601" y1="266.2" x2="605.7" y2="266.2" stroke="#111111" stroke-width="0.9"/>
<text x="599.85" y="268.49" font-size="6.4" font-weight="bold" text-anchor="end" stroke="#111111" stroke-width="0.17">0</text>
<line x1="601" y1="249.1" x2="605.7" y2="249.1" stroke="#111111" stroke-width="0.9"/>
<text x="599.85" y="251.39" font-size="6.4" font-weight="bold" text-anchor="end" stroke="#111111" stroke-width="0.17">20</text>
<line x1="601" y1="232" x2="605.7" y2="232" stroke="#111111" stroke-width="0.9"/>
<text x="599.85" y="234.29" font-size="6.4" font-weight="bold" text-anchor="end" stroke="#111111" stroke-width="0.17">40</text>
<line x1="601" y1="214.9" x2="605.7" y2="214.9" stroke="#111111" stroke-width="0.9"/>
<text x="599.85" y="217.19" font-size="6.4" font-weight="bold" text-anchor="end" stroke="#111111" stroke-width="0.17">60</text>
<line x1="601" y1="197.8" x2="605.7" y2="197.8" stroke="#111111" stroke-width="0.9"/>
<text x="599.85" y="200.09" font-size="6.4" font-weight="bold" text-anchor="end" stroke="#111111" stroke-width="0.17">80</text>
<line x1="601" y1="180.7" x2="605.7" y2="180.7" stroke="#111111" stroke-width="0.9"/>
<text x="599.85" y="182.99" font-size="6.4" font-weight="bold" text-anchor="end" stroke="#111111" stroke-width="0.17">100</text>
<text x="585.35" y="223.45" font-size="6.9" font-weight="bold" text-anchor="middle" transform="rotate(-90 585.35 223.45)" stroke="#111111" stroke-width="0.17">Frequency (%) - NGS</text>
<line x1="614" y1="266.2" x2="614" y2="269.8" stroke="#111111" stroke-width="1"/>
<line x1="627.1" y1="266.2" x2="627.1" y2="269.8" stroke="#111111" stroke-width="1"/>
<line x1="640" y1="266.2" x2="640" y2="269.8" stroke="#111111" stroke-width="1"/>
<line x1="653" y1="266.2" x2="653" y2="269.8" stroke="#111111" stroke-width="1"/>
<text x="633.7" y="166.6" font-size="7.1" font-weight="bold" text-anchor="middle" font-style="italic" stroke="#111111" stroke-width="0.17">GAPDH</text>
<text x="601.1" y="277.37" font-size="6.35" font-weight="bold" text-anchor="end" stroke="#111111" stroke-width="0.17">Cas9</text>
<circle cx="613.9" cy="275.1" r="1.45" fill="#111"/>
<circle cx="627" cy="275.1" r="1.45" fill="#111"/>
<circle cx="640.1" cy="275.1" r="1.45" fill="#111"/>
<circle cx="653.1" cy="275.1" r="1.45" fill="#111"/>
<text x="601.1" y="284.87" font-size="6.35" font-weight="bold" text-anchor="end" stroke="#111111" stroke-width="0.17">ssODN</text>
<circle cx="613.9" cy="282.6" r="1.45" fill="#111"/>
<circle cx="627" cy="282.6" r="1.45" fill="#111"/>
<circle cx="640.1" cy="282.6" r="1.45" fill="#111"/>
<circle cx="653.1" cy="282.6" r="1.45" fill="#111"/>
<text x="601.1" y="292.27" font-size="6.35" font-weight="bold" text-anchor="end" stroke="#111111" stroke-width="0.17">PolQi2</text>
<circle cx="627" cy="290" r="1.45" fill="#111"/>
<circle cx="653.1" cy="290" r="1.45" fill="#111"/>
<text x="601.1" y="299.57" font-size="6.35" font-weight="bold" text-anchor="end" stroke="#111111" stroke-width="0.17">AZD7648</text>
<circle cx="640.1" cy="297.3" r="1.45" fill="#111"/>
<circle cx="653.1" cy="297.3" r="1.45" fill="#111"/>
<!-- panel d -->
<text x="0.9" y="332.8" font-size="10.6" font-weight="bold" stroke="#111111" stroke-width="0.17">d</text>
<text x="35" y="362.9" font-size="8.5" font-weight="bold" stroke="#111111" stroke-width="0.17">RPE-1 <tspan font-style="italic">p53</tspan> <tspan font-size="5.95" dy="-2.7">-/-</tspan></text>
<g transform="translate(58.7 383.4) scale(1.02)">
<path d="M-29.8 1.3 C-25 0 -21 -1.2 -17.9 -2.3 C-14 -3.8 -10.5 -5.6 -7.7 -6.5 C-5 -7.3 -2 -7.5 0.5 -7.5 C3 -7.5 5.5 -7.2 7.7 -6.7 C12 -5.6 16 -4 19.9 -2.8 C23 -1.9 26 -1.2 29.3 -0.7 C26.5 0.2 24 0.8 22 1.3 C19.5 2 17 2.9 14.8 3.7 C14.3 4.4 14.2 4.9 13.8 5.4 C12 6 9.8 6.5 7.7 6.9 C5 7.5 2 8 -0.5 8 C-4 7.6 -7.5 6.6 -10.7 5.7 C-13 5.1 -15.5 4.4 -17.9 3.9 C-22 3 -26 2.1 -29.8 1.3Z" fill="#dddddd"/>
<path d="M-15 -3.4 C-9 -2.2 -3.5 -1.4 0 -0.6 C5 0.6 9.5 2.2 14 3.8 M14.5 -4.4 C9.5 -3.2 4 -1.8 0 -0.6 C-4.5 0.8 -9.5 2.6 -14.5 4.5" fill="none" stroke="#d3d3d3" stroke-width="0.7"/>
<ellipse cx="0.0" cy="-4.8" rx="2.4" ry="1.65" fill="#bcbcbc"/>
<ellipse cx="-14.3" cy="-0.1" rx="2.4" ry="1.65" fill="#bcbcbc"/>
<ellipse cx="15.8" cy="-0.9" rx="2.4" ry="1.65" fill="#bcbcbc"/>
<ellipse cx="0.5" cy="3.9" rx="2.4" ry="1.65" fill="#bcbcbc"/>
<ellipse cx="0" cy="-0.65" rx="1.3" ry="0.6" fill="#ffffff"/>
</g>
<line x1="6.7" y1="402.8" x2="16.1" y2="402.8" stroke="#d6d6d6" stroke-width="1"/>
<text x="20.7" y="405.1" font-size="6.5" fill="#2b2b2b" stroke="#2b2b2b" stroke-width="0.12">Unedited</text>
<line x1="6.7" y1="413.3" x2="16.1" y2="413.3" stroke="#ef8f96" stroke-width="1"/>
<text x="20.7" y="415.5" font-size="6.5" fill="#2b2b2b" stroke="#2b2b2b" stroke-width="0.12">Cas9</text>
<line x1="6.7" y1="424.7" x2="16.1" y2="424.7" stroke="#e0342f" stroke-width="1"/>
<text x="20.7" y="426.8" font-size="6.5" fill="#2b2b2b" stroke="#2b2b2b" stroke-width="0.12">Cas9 + AZD7648</text>
<line x1="6.7" y1="435.8" x2="16.1" y2="435.8" stroke="#eeb0f0" stroke-width="1"/>
<text x="20.7" y="437.9" font-size="6.5" fill="#2b2b2b" stroke="#2b2b2b" stroke-width="0.12">Cas9 + PolQi2</text>
<line x1="6.7" y1="447" x2="16.1" y2="447" stroke="#7d2b9c" stroke-width="1"/>
<text x="20.7" y="449.2" font-size="6.5" fill="#2b2b2b" stroke="#2b2b2b" stroke-width="0.12">Cas9 + AZD7648 + PolQi2</text>
<text x="205.2" y="337.6" font-size="7.1" font-weight="bold" text-anchor="middle" font-style="italic" stroke="#111111" stroke-width="0.17">HBB</text>
<path d="M142.6 354.4 C147.17 354.4 161.57 354.4 170 354.4 C178.43 354.4 189.22 354.13 193.2 354.4 C197.18 354.67 193.78 355.73 193.9 356 L193.9 356.8" fill="none" stroke="#cfcbd9" stroke-width="0.8" stroke-linejoin="round"/>
<path d="M142.6 354.4 C145.5 354.42 155.77 354.4 160 354.5 C164.23 354.6 165.58 354.63 168 355 C170.42 355.37 172.25 355.48 174.5 356.7 C176.75 357.92 179.18 360.45 181.5 362.3 C183.82 364.15 186.55 365.72 188.4 367.8 C190.25 369.88 191.72 372.48 192.6 374.8 C193.48 377.12 193.52 380.55 193.7 381.7 L193.9 382.5" fill="none" stroke="#7a2396" stroke-width="1.15" stroke-linejoin="round"/>
<path d="M142.6 354.4 C145.17 354.42 154.1 354.4 158 354.5 C161.9 354.6 163.72 354.63 166 355 C168.28 355.37 169.58 355.37 171.7 356.7 C173.82 358.03 176.38 360.33 178.7 363 C181.02 365.67 183.52 369.37 185.6 372.7 C187.68 376.03 189.85 380.33 191.2 383 C192.55 385.67 193.28 387.75 193.7 388.7 L193.9 389.5" fill="none" stroke="#ee2b24" stroke-width="1.15" stroke-linejoin="round"/>
<path d="M142.6 354.4 C147.17 354.42 163.77 354.4 170 354.5 C176.23 354.6 177.25 354.68 180 355 C182.75 355.32 184.6 355.68 186.5 356.4 C188.4 357.12 190.25 358.27 191.4 359.3 C192.55 360.33 193.07 362.05 193.4 362.6 L193.9 363.4" fill="none" stroke="#f08af0" stroke-width="1" stroke-linejoin="round"/>
<path d="M142.6 354.4 C147.17 354.42 163.93 354.4 170 354.5 C176.07 354.6 176.4 354.7 179 355 C181.6 355.3 183.6 355.5 185.6 356.3 C187.6 357.1 189.68 358.45 191 359.8 C192.32 361.15 193.08 363.63 193.5 364.4 L193.9 365.2" fill="none" stroke="#ee6f79" stroke-width="1" stroke-linejoin="round"/>
<path d="M193.9 364.8 V440.5" fill="none" stroke="#ee6f79" stroke-width="0.85"/>
<path d="M193.9 363 V364.8" fill="none" stroke="#f08af0" stroke-width="0.85"/>
<path d="M193.9 356.4 V363" fill="none" stroke="#cfcbd9" stroke-width="0.85"/>
<line x1="142.6" y1="353.95" x2="142.6" y2="440.95" stroke="#111111" stroke-width="0.9"/>
<line x1="142.15" y1="440.5" x2="199.95" y2="440.5" stroke="#111111" stroke-width="0.9"/>
<line x1="138.6" y1="440.5" x2="142.6" y2="440.5" stroke="#111111" stroke-width="0.9"/>
<text x="137.45" y="442.79" font-size="6.4" font-weight="bold" text-anchor="end" stroke="#111111" stroke-width="0.17">0</text>
<line x1="138.6" y1="423.28" x2="142.6" y2="423.28" stroke="#111111" stroke-width="0.9"/>
<text x="137.45" y="425.57" font-size="6.4" font-weight="bold" text-anchor="end" stroke="#111111" stroke-width="0.17">20</text>
<line x1="138.6" y1="406.06" x2="142.6" y2="406.06" stroke="#111111" stroke-width="0.9"/>
<text x="137.45" y="408.35" font-size="6.4" font-weight="bold" text-anchor="end" stroke="#111111" stroke-width="0.17">40</text>
<line x1="138.6" y1="388.84" x2="142.6" y2="388.84" stroke="#111111" stroke-width="0.9"/>
<text x="137.45" y="391.13" font-size="6.4" font-weight="bold" text-anchor="end" stroke="#111111" stroke-width="0.17">60</text>
<line x1="138.6" y1="371.62" x2="142.6" y2="371.62" stroke="#111111" stroke-width="0.9"/>
<text x="137.45" y="373.91" font-size="6.4" font-weight="bold" text-anchor="end" stroke="#111111" stroke-width="0.17">80</text>
<line x1="138.6" y1="354.4" x2="142.6" y2="354.4" stroke="#111111" stroke-width="0.9"/>
<text x="137.45" y="356.69" font-size="6.4" font-weight="bold" text-anchor="end" stroke="#111111" stroke-width="0.17">100</text>
<text x="122.3" y="397.45" font-size="7.05" font-weight="bold" text-anchor="middle" transform="rotate(-90 122.3 397.45)" stroke="#111111" stroke-width="0.17">Percent of total reads</text>
<line x1="153.3" y1="440.5" x2="153.3" y2="444" stroke="#111111" stroke-width="1"/>
<text x="153.3" y="451.4" font-size="6.55" font-weight="bold" text-anchor="middle" stroke="#111111" stroke-width="0.17">1kb</text>
<line x1="176.5" y1="440.5" x2="176.5" y2="444" stroke="#111111" stroke-width="1"/>
<text x="176.5" y="451.4" font-size="6.55" font-weight="bold" text-anchor="middle" stroke="#111111" stroke-width="0.17">3kb</text>
<line x1="199.5" y1="440.5" x2="199.5" y2="444" stroke="#111111" stroke-width="1"/>
<text x="199.5" y="451.4" font-size="6.55" font-weight="bold" text-anchor="middle" stroke="#111111" stroke-width="0.17">5kb</text>
<text x="170.4" y="461.9" font-size="7.1" font-weight="bold" text-anchor="middle" stroke="#111111" stroke-width="0.17">Read length</text>
<rect x="242.25" y="430.2" width="8.6" height="10.2" fill="#eb5f6b" stroke="#c8505b" stroke-width="0.5"/>
<rect x="255.45" y="432.42" width="8.6" height="7.98" fill="#f06ef0" stroke="#cc5ccc" stroke-width="0.5"/>
<rect x="268.95" y="371.17" width="8.6" height="69.23" fill="#ff2015" stroke="#d81b12" stroke-width="0.5"/>
<rect x="282.35" y="404.28" width="8.6" height="36.12" fill="#7f1f98" stroke="#6a1a80" stroke-width="0.5"/>
<line x1="237.4" y1="352.95" x2="237.4" y2="440.85" stroke="#111111" stroke-width="0.9"/>
<line x1="236.95" y1="440.4" x2="295.1" y2="440.4" stroke="#111111" stroke-width="0.9"/>
<line x1="233.7" y1="440.4" x2="237.4" y2="440.4" stroke="#111111" stroke-width="0.9"/>
<text x="232.55" y="442.69" font-size="6.4" font-weight="bold" text-anchor="end" stroke="#111111" stroke-width="0.17">0</text>
<line x1="233.7" y1="418.65" x2="237.4" y2="418.65" stroke="#111111" stroke-width="0.9"/>
<text x="232.55" y="420.94" font-size="6.4" font-weight="bold" text-anchor="end" stroke="#111111" stroke-width="0.17">5</text>
<line x1="233.7" y1="396.9" x2="237.4" y2="396.9" stroke="#111111" stroke-width="0.9"/>
<text x="232.55" y="399.19" font-size="6.4" font-weight="bold" text-anchor="end" stroke="#111111" stroke-width="0.17">10</text>
<line x1="233.7" y1="375.15" x2="237.4" y2="375.15" stroke="#111111" stroke-width="0.9"/>
<text x="232.55" y="377.44" font-size="6.4" font-weight="bold" text-anchor="end" stroke="#111111" stroke-width="0.17">15</text>
<line x1="233.7" y1="353.4" x2="237.4" y2="353.4" stroke="#111111" stroke-width="0.9"/>
<text x="232.55" y="355.69" font-size="6.4" font-weight="bold" text-anchor="end" stroke="#111111" stroke-width="0.17">20</text>
<text x="221.69" y="396.9" font-size="7" font-weight="bold" text-anchor="middle" transform="rotate(-90 221.69 396.9)" stroke="#111111" stroke-width="0.17">Kilobase-scale deletion (%)</text>
<line x1="246.55" y1="440.4" x2="246.55" y2="444" stroke="#111111" stroke-width="1"/>
<line x1="259.75" y1="440.4" x2="259.75" y2="444" stroke="#111111" stroke-width="1"/>
<line x1="273.25" y1="440.4" x2="273.25" y2="444" stroke="#111111" stroke-width="1"/>
<line x1="286.65" y1="440.4" x2="286.65" y2="444" stroke="#111111" stroke-width="1"/>
<text x="233.3" y="453.33" font-size="6.5" font-weight="bold" text-anchor="end" stroke="#111111" stroke-width="0.17">Cas9</text>
<circle cx="246.5" cy="451" r="1.45" fill="#111"/>
<circle cx="259.7" cy="451" r="1.45" fill="#111"/>
<circle cx="273.3" cy="451" r="1.45" fill="#111"/>
<circle cx="286.8" cy="451" r="1.45" fill="#111"/>
<text x="233.3" y="460.83" font-size="6.5" font-weight="bold" text-anchor="end" stroke="#111111" stroke-width="0.17">PolQi2</text>
<circle cx="259.7" cy="458.5" r="1.45" fill="#111"/>
<circle cx="286.8" cy="458.5" r="1.45" fill="#111"/>
<text x="233.3" y="468.33" font-size="6.5" font-weight="bold" text-anchor="end" stroke="#111111" stroke-width="0.17">AZD7648</text>
<circle cx="273.3" cy="466" r="1.45" fill="#111"/>
<circle cx="286.8" cy="466" r="1.45" fill="#111"/>
<text x="411.7" y="337.6" font-size="7.1" font-weight="bold" text-anchor="middle" font-style="italic" stroke="#111111" stroke-width="0.17">CCR5</text>
<path d="M340.8 354.3 C345.67 354.33 362.63 354.35 370 354.5 C377.37 354.65 381.5 354.95 385 355.2 C388.5 355.45 390 355.87 391 356 L391 356.8" fill="none" stroke="#cfcbd9" stroke-width="0.8" stroke-linejoin="round"/>
<path d="M340.8 354.3 C342.67 354.35 349.13 354.45 352 354.6 C354.87 354.75 356.33 354.97 358 355.2 C359.67 355.43 359.95 355.28 362 356 C364.05 356.72 367.98 358.12 370.3 359.5 C372.62 360.88 374.27 362.57 375.9 364.3 C377.53 366.03 378.83 367.8 380.1 369.9 C381.37 372 382.35 374.58 383.5 376.9 C384.65 379.22 385.87 381.88 387 383.8 C388.13 385.72 389.6 386.43 390.3 388.4 C391 390.37 391.05 394.4 391.2 395.6 L391 396.4" fill="none" stroke="#7a2396" stroke-width="1.15" stroke-linejoin="round"/>
<path d="M340.8 354.3 C342.33 354.35 347.8 354.5 350 354.6 C352.2 354.7 352.7 354.77 354 354.9 C355.3 355.03 355.77 354.75 357.8 355.4 C359.83 356.05 363.88 357.55 366.2 358.8 C368.52 360.05 369.85 361.05 371.7 362.9 C373.55 364.75 375.67 367.23 377.3 369.9 C378.93 372.57 380.12 375.53 381.5 378.9 C382.88 382.27 384.22 386.62 385.6 390.1 C386.98 393.58 388.87 397.02 389.8 399.8 C390.73 402.58 390.97 405.63 391.2 406.8 L391 407.6" fill="none" stroke="#ee2b24" stroke-width="1.15" stroke-linejoin="round"/>
<path d="M340.8 354.3 C344.83 354.38 358.47 354.53 365 354.8 C371.53 355.07 375.67 355.4 380 355.9 C384.33 356.4 389.17 357.48 391 357.8 L391 358.6" fill="none" stroke="#f08af0" stroke-width="1" stroke-linejoin="round"/>
<path d="M340.8 354.3 C344.83 354.4 358.47 354.55 365 354.9 C371.53 355.25 375.67 355.73 380 356.4 C384.33 357.07 389.17 358.48 391 358.9 L391 359.7" fill="none" stroke="#ee6f79" stroke-width="1" stroke-linejoin="round"/>
<path d="M391 359.3 V440.5" fill="none" stroke="#ee6f79" stroke-width="0.85"/>
<path d="M391 358.2 V359.3" fill="none" stroke="#f08af0" stroke-width="0.85"/>
<path d="M391 356.4 V358.2" fill="none" stroke="#cfcbd9" stroke-width="0.85"/>
<line x1="340.8" y1="353.85" x2="340.8" y2="440.95" stroke="#111111" stroke-width="0.9"/>
<line x1="340.35" y1="440.5" x2="398.25" y2="440.5" stroke="#111111" stroke-width="0.9"/>
<line x1="336.8" y1="440.5" x2="340.8" y2="440.5" stroke="#111111" stroke-width="0.9"/>
<text x="335.65" y="442.79" font-size="6.4" font-weight="bold" text-anchor="end" stroke="#111111" stroke-width="0.17">0</text>
<line x1="336.8" y1="423.26" x2="340.8" y2="423.26" stroke="#111111" stroke-width="0.9"/>
<text x="335.65" y="425.55" font-size="6.4" font-weight="bold" text-anchor="end" stroke="#111111" stroke-width="0.17">20</text>
<line x1="336.8" y1="406.02" x2="340.8" y2="406.02" stroke="#111111" stroke-width="0.9"/>
<text x="335.65" y="408.31" font-size="6.4" font-weight="bold" text-anchor="end" stroke="#111111" stroke-width="0.17">40</text>
<line x1="336.8" y1="388.78" x2="340.8" y2="388.78" stroke="#111111" stroke-width="0.9"/>
<text x="335.65" y="391.07" font-size="6.4" font-weight="bold" text-anchor="end" stroke="#111111" stroke-width="0.17">60</text>
<line x1="336.8" y1="371.54" x2="340.8" y2="371.54" stroke="#111111" stroke-width="0.9"/>
<text x="335.65" y="373.83" font-size="6.4" font-weight="bold" text-anchor="end" stroke="#111111" stroke-width="0.17">80</text>
<line x1="336.8" y1="354.3" x2="340.8" y2="354.3" stroke="#111111" stroke-width="0.9"/>
<text x="335.65" y="356.59" font-size="6.4" font-weight="bold" text-anchor="end" stroke="#111111" stroke-width="0.17">100</text>
<text x="320.5" y="397.4" font-size="7.05" font-weight="bold" text-anchor="middle" transform="rotate(-90 320.5 397.4)" stroke="#111111" stroke-width="0.17">Percent of total reads</text>
<line x1="352.3" y1="440.5" x2="352.3" y2="444" stroke="#111111" stroke-width="1"/>
<text x="352.3" y="451.4" font-size="6.55" font-weight="bold" text-anchor="middle" stroke="#111111" stroke-width="0.17">1kb</text>
<line x1="374.9" y1="440.5" x2="374.9" y2="444" stroke="#111111" stroke-width="1"/>
<text x="374.9" y="451.4" font-size="6.55" font-weight="bold" text-anchor="middle" stroke="#111111" stroke-width="0.17">3kb</text>
<line x1="397.8" y1="440.5" x2="397.8" y2="444" stroke="#111111" stroke-width="1"/>
<text x="397.8" y="451.4" font-size="6.55" font-weight="bold" text-anchor="middle" stroke="#111111" stroke-width="0.17">5kb</text>
<text x="369.6" y="461.9" font-size="7.1" font-weight="bold" text-anchor="middle" stroke="#111111" stroke-width="0.17">Read length</text>
<rect x="440.55" y="432.53" width="8.6" height="7.97" fill="#eb5f6b" stroke="#c8505b" stroke-width="0.5"/>
<rect x="453.95" y="435.74" width="8.6" height="4.76" fill="#f06ef0" stroke="#cc5ccc" stroke-width="0.5"/>
<rect x="467.55" y="365.16" width="8.6" height="75.34" fill="#ff2015" stroke="#d81b12" stroke-width="0.5"/>
<rect x="480.75" y="389.66" width="8.6" height="50.84" fill="#7f1f98" stroke="#6a1a80" stroke-width="0.5"/>
<line x1="435.9" y1="352.55" x2="435.9" y2="440.95" stroke="#111111" stroke-width="0.9"/>
<line x1="435.45" y1="440.5" x2="493.6" y2="440.5" stroke="#111111" stroke-width="0.9"/>
<line x1="432.2" y1="440.5" x2="435.9" y2="440.5" stroke="#111111" stroke-width="0.9"/>
<text x="431.05" y="442.79" font-size="6.4" font-weight="bold" text-anchor="end" stroke="#111111" stroke-width="0.17">0</text>
<line x1="432.2" y1="411.33" x2="435.9" y2="411.33" stroke="#111111" stroke-width="0.9"/>
<text x="431.05" y="413.62" font-size="6.4" font-weight="bold" text-anchor="end" stroke="#111111" stroke-width="0.17">10</text>
<line x1="432.2" y1="382.17" x2="435.9" y2="382.17" stroke="#111111" stroke-width="0.9"/>
<text x="431.05" y="384.46" font-size="6.4" font-weight="bold" text-anchor="end" stroke="#111111" stroke-width="0.17">20</text>
<line x1="432.2" y1="353" x2="435.9" y2="353" stroke="#111111" stroke-width="0.9"/>
<text x="431.05" y="355.29" font-size="6.4" font-weight="bold" text-anchor="end" stroke="#111111" stroke-width="0.17">30</text>
<text x="420.19" y="396.75" font-size="7" font-weight="bold" text-anchor="middle" transform="rotate(-90 420.19 396.75)" stroke="#111111" stroke-width="0.17">Kilobase-scale deletion (%)</text>
<line x1="444.85" y1="440.5" x2="444.85" y2="444.1" stroke="#111111" stroke-width="1"/>
<line x1="458.25" y1="440.5" x2="458.25" y2="444.1" stroke="#111111" stroke-width="1"/>
<line x1="471.85" y1="440.5" x2="471.85" y2="444.1" stroke="#111111" stroke-width="1"/>
<line x1="485.05" y1="440.5" x2="485.05" y2="444.1" stroke="#111111" stroke-width="1"/>
<text x="431.6" y="452.63" font-size="6.5" font-weight="bold" text-anchor="end" stroke="#111111" stroke-width="0.17">Cas9</text>
<circle cx="444.5" cy="450.3" r="1.45" fill="#111"/>
<circle cx="457.7" cy="450.3" r="1.45" fill="#111"/>
<circle cx="471.9" cy="450.3" r="1.45" fill="#111"/>
<circle cx="485.1" cy="450.3" r="1.45" fill="#111"/>
<text x="431.6" y="460.33" font-size="6.5" font-weight="bold" text-anchor="end" stroke="#111111" stroke-width="0.17">PolQi2</text>
<circle cx="457.7" cy="458" r="1.45" fill="#111"/>
<circle cx="485.1" cy="458" r="1.45" fill="#111"/>
<text x="431.6" y="467.83" font-size="6.5" font-weight="bold" text-anchor="end" stroke="#111111" stroke-width="0.17">AZD7648</text>
<circle cx="471.9" cy="465.5" r="1.45" fill="#111"/>
<circle cx="485.1" cy="465.5" r="1.45" fill="#111"/>
<text x="599.6" y="337.3" font-size="7.1" font-weight="bold" text-anchor="middle" font-style="italic" stroke="#111111" stroke-width="0.17">GAPDH</text>
<path d="M530.3 352.6 C535.25 352.6 551.72 352.6 560 352.6 C568.28 352.6 576.57 352.37 580 352.6 C583.43 352.83 580.5 353.77 580.6 354 L581.1 354.8" fill="none" stroke="#cfcbd9" stroke-width="0.8" stroke-linejoin="round"/>
<path d="M530.3 353.2 C531.08 353.15 533.38 352.67 535 352.9 C536.62 353.13 537.77 353.03 540 354.6 C542.23 356.17 545.85 359.98 548.4 362.3 C550.95 364.62 553.22 365.73 555.3 368.5 C557.38 371.27 559.03 374.62 560.9 378.9 C562.77 383.18 564.65 390.02 566.5 394.2 C568.35 398.38 570.15 401.22 572 404 C573.85 406.78 576.2 409.17 577.6 410.9 C579 412.63 579.93 413.82 580.4 414.4 L581.1 415.2" fill="none" stroke="#7a2396" stroke-width="1.15" stroke-linejoin="round"/>
<path d="M530.3 353.4 C531.25 353.33 534.38 352.8 536 353 C537.62 353.2 538.4 353.98 540 354.6 C541.6 355.22 543.28 356.23 545.6 356.7 C547.92 357.17 551.12 356.82 553.9 357.4 C556.68 357.98 559.05 359.28 562.3 360.2 C565.55 361.12 570.43 361.98 573.4 362.9 C576.37 363.82 578.98 365.23 580.1 365.7 L581.1 366.5" fill="none" stroke="#ee6f79" stroke-width="1" stroke-linejoin="round"/>
<path d="M530.3 353.2 C531.25 353.13 534.38 352.68 536 352.8 C537.62 352.92 537.02 353.43 540 353.9 C542.98 354.37 549.27 354.95 553.9 355.6 C558.53 356.25 563.43 357.03 567.8 357.8 C572.17 358.57 578.05 359.8 580.1 360.2 L581.1 361" fill="none" stroke="#f08af0" stroke-width="1" stroke-linejoin="round"/>
<path d="M530.3 353.2 C531.08 353.15 533.38 352.67 535 352.9 C536.62 353.13 537.77 352.93 540 354.6 C542.23 356.27 545.85 360 548.4 362.9 C550.95 365.8 553.22 368.4 555.3 372 C557.38 375.6 559.03 380.1 560.9 384.5 C562.77 388.9 564.65 394 566.5 398.4 C568.35 402.8 570.15 407.18 572 410.9 C573.85 414.62 576.2 418.15 577.6 420.7 C579 423.25 579.93 425.28 580.4 426.2 L581.1 427" fill="none" stroke="#ee2b24" stroke-width="1.15" stroke-linejoin="round"/>
<path d="M581.1 426.6 V440.1" fill="none" stroke="#ee2b24" stroke-width="0.85"/>
<path d="M581.1 360.6 V426.6" fill="none" stroke="#f08af0" stroke-width="0.85"/>
<path d="M581.1 354.4 V360.6" fill="none" stroke="#cfcbd9" stroke-width="0.85"/>
<line x1="527.9" y1="352.15" x2="527.9" y2="440.55" stroke="#111111" stroke-width="0.9"/>
<line x1="527.45" y1="440.1" x2="586.35" y2="440.1" stroke="#111111" stroke-width="0.9"/>
<line x1="523.9" y1="440.1" x2="527.9" y2="440.1" stroke="#111111" stroke-width="0.9"/>
<text x="522.75" y="442.39" font-size="6.4" font-weight="bold" text-anchor="end" stroke="#111111" stroke-width="0.17">0</text>
<line x1="523.9" y1="422.6" x2="527.9" y2="422.6" stroke="#111111" stroke-width="0.9"/>
<text x="522.75" y="424.89" font-size="6.4" font-weight="bold" text-anchor="end" stroke="#111111" stroke-width="0.17">20</text>
<line x1="523.9" y1="405.1" x2="527.9" y2="405.1" stroke="#111111" stroke-width="0.9"/>
<text x="522.75" y="407.39" font-size="6.4" font-weight="bold" text-anchor="end" stroke="#111111" stroke-width="0.17">40</text>
<line x1="523.9" y1="387.6" x2="527.9" y2="387.6" stroke="#111111" stroke-width="0.9"/>
<text x="522.75" y="389.89" font-size="6.4" font-weight="bold" text-anchor="end" stroke="#111111" stroke-width="0.17">60</text>
<line x1="523.9" y1="370.1" x2="527.9" y2="370.1" stroke="#111111" stroke-width="0.9"/>
<text x="522.75" y="372.39" font-size="6.4" font-weight="bold" text-anchor="end" stroke="#111111" stroke-width="0.17">80</text>
<line x1="523.9" y1="352.6" x2="527.9" y2="352.6" stroke="#111111" stroke-width="0.9"/>
<text x="522.75" y="354.89" font-size="6.4" font-weight="bold" text-anchor="end" stroke="#111111" stroke-width="0.17">100</text>
<text x="507.6" y="396.35" font-size="7.05" font-weight="bold" text-anchor="middle" transform="rotate(-90 507.6 396.35)" stroke="#111111" stroke-width="0.17">Percent of total reads</text>
<line x1="539.4" y1="440.1" x2="539.4" y2="443.6" stroke="#111111" stroke-width="1"/>
<text x="539.4" y="451" font-size="6.55" font-weight="bold" text-anchor="middle" stroke="#111111" stroke-width="0.17">1kb</text>
<line x1="562.5" y1="440.1" x2="562.5" y2="443.6" stroke="#111111" stroke-width="1"/>
<text x="562.5" y="451" font-size="6.55" font-weight="bold" text-anchor="middle" stroke="#111111" stroke-width="0.17">3kb</text>
<line x1="585.9" y1="440.1" x2="585.9" y2="443.6" stroke="#111111" stroke-width="1"/>
<text x="585.9" y="451" font-size="6.55" font-weight="bold" text-anchor="middle" stroke="#111111" stroke-width="0.17">5kb</text>
<text x="556.7" y="460.3" font-size="7.1" font-weight="bold" text-anchor="middle" stroke="#111111" stroke-width="0.17">Read length</text>
<rect x="630.35" y="429.49" width="8.7" height="10.91" fill="#eb5f6b" stroke="#c8505b" stroke-width="0.5"/>
<rect x="644.15" y="433.52" width="8.7" height="6.88" fill="#f06ef0" stroke="#cc5ccc" stroke-width="0.5"/>
<rect x="657.45" y="374.73" width="8.7" height="65.67" fill="#ff2015" stroke="#d81b12" stroke-width="0.5"/>
<rect x="671.05" y="381.81" width="8.7" height="58.59" fill="#7f1f98" stroke="#6a1a80" stroke-width="0.5"/>
<line x1="626.2" y1="352.85" x2="626.2" y2="440.85" stroke="#111111" stroke-width="0.9"/>
<line x1="625.75" y1="440.4" x2="684" y2="440.4" stroke="#111111" stroke-width="0.9"/>
<line x1="622.5" y1="440.4" x2="626.2" y2="440.4" stroke="#111111" stroke-width="0.9"/>
<text x="621.35" y="442.69" font-size="6.4" font-weight="bold" text-anchor="end" stroke="#111111" stroke-width="0.17">0</text>
<line x1="622.5" y1="418.62" x2="626.2" y2="418.62" stroke="#111111" stroke-width="0.9"/>
<text x="621.35" y="420.92" font-size="6.4" font-weight="bold" text-anchor="end" stroke="#111111" stroke-width="0.17">20</text>
<line x1="622.5" y1="396.85" x2="626.2" y2="396.85" stroke="#111111" stroke-width="0.9"/>
<text x="621.35" y="399.14" font-size="6.4" font-weight="bold" text-anchor="end" stroke="#111111" stroke-width="0.17">40</text>
<line x1="622.5" y1="375.07" x2="626.2" y2="375.07" stroke="#111111" stroke-width="0.9"/>
<text x="621.35" y="377.37" font-size="6.4" font-weight="bold" text-anchor="end" stroke="#111111" stroke-width="0.17">60</text>
<line x1="622.5" y1="353.3" x2="626.2" y2="353.3" stroke="#111111" stroke-width="0.9"/>
<text x="621.35" y="355.59" font-size="6.4" font-weight="bold" text-anchor="end" stroke="#111111" stroke-width="0.17">80</text>
<text x="610.49" y="396.85" font-size="7" font-weight="bold" text-anchor="middle" transform="rotate(-90 610.49 396.85)" stroke="#111111" stroke-width="0.17">Kilobase-scale deletion (%)</text>
<line x1="634.7" y1="440.4" x2="634.7" y2="444" stroke="#111111" stroke-width="1"/>
<line x1="648.5" y1="440.4" x2="648.5" y2="444" stroke="#111111" stroke-width="1"/>
<line x1="661.8" y1="440.4" x2="661.8" y2="444" stroke="#111111" stroke-width="1"/>
<line x1="675.4" y1="440.4" x2="675.4" y2="444" stroke="#111111" stroke-width="1"/>
<text x="621.8" y="452.43" font-size="6.5" font-weight="bold" text-anchor="end" stroke="#111111" stroke-width="0.17">Cas9</text>
<circle cx="634.8" cy="450.1" r="1.45" fill="#111"/>
<circle cx="648.3" cy="450.1" r="1.45" fill="#111"/>
<circle cx="661.6" cy="450.1" r="1.45" fill="#111"/>
<circle cx="675.4" cy="450.1" r="1.45" fill="#111"/>
<text x="621.8" y="459.83" font-size="6.5" font-weight="bold" text-anchor="end" stroke="#111111" stroke-width="0.17">PolQi2</text>
<circle cx="648.3" cy="457.5" r="1.45" fill="#111"/>
<circle cx="675.4" cy="457.5" r="1.45" fill="#111"/>
<text x="621.8" y="467.03" font-size="6.5" font-weight="bold" text-anchor="end" stroke="#111111" stroke-width="0.17">AZD7648</text>
<circle cx="661.6" cy="464.7" r="1.45" fill="#111"/>
<circle cx="675.4" cy="464.7" r="1.45" fill="#111"/>
<!-- panel e -->
<text x="0.9" y="492.2" font-size="10.6" font-weight="bold" stroke="#111111" stroke-width="0.17">e</text>
<text x="33.6" y="520.1" font-size="8.5" font-weight="bold" stroke="#111111" stroke-width="0.17">RPE-1 <tspan font-style="italic">p53</tspan> <tspan font-size="5.95" dy="-2.7">+/+</tspan></text>
<g transform="translate(58.6 540.9) scale(1.02)">
<path d="M-29.8 1.3 C-25 0 -21 -1.2 -17.9 -2.3 C-14 -3.8 -10.5 -5.6 -7.7 -6.5 C-5 -7.3 -2 -7.5 0.5 -7.5 C3 -7.5 5.5 -7.2 7.7 -6.7 C12 -5.6 16 -4 19.9 -2.8 C23 -1.9 26 -1.2 29.3 -0.7 C26.5 0.2 24 0.8 22 1.3 C19.5 2 17 2.9 14.8 3.7 C14.3 4.4 14.2 4.9 13.8 5.4 C12 6 9.8 6.5 7.7 6.9 C5 7.5 2 8 -0.5 8 C-4 7.6 -7.5 6.6 -10.7 5.7 C-13 5.1 -15.5 4.4 -17.9 3.9 C-22 3 -26 2.1 -29.8 1.3Z" fill="#f9dcc5"/>
<path d="M-15 -3.4 C-9 -2.2 -3.5 -1.4 0 -0.6 C5 0.6 9.5 2.2 14 3.8 M14.5 -4.4 C9.5 -3.2 4 -1.8 0 -0.6 C-4.5 0.8 -9.5 2.6 -14.5 4.5" fill="none" stroke="#fbe6d6" stroke-width="0.7"/>
<ellipse cx="0.0" cy="-4.8" rx="2.4" ry="1.65" fill="#ecae8f"/>
<ellipse cx="-14.3" cy="-0.1" rx="2.4" ry="1.65" fill="#ecae8f"/>
<ellipse cx="15.8" cy="-0.9" rx="2.4" ry="1.65" fill="#ecae8f"/>
<ellipse cx="0.5" cy="3.9" rx="2.4" ry="1.65" fill="#ecae8f"/>
<ellipse cx="0" cy="-0.65" rx="1.6" ry="0.75" fill="#ffffff"/>
</g>
<line x1="5.8" y1="561.8" x2="15.4" y2="561.8" stroke="#d3dadb" stroke-width="1"/>
<text x="19.8" y="563.9" font-size="6.5" fill="#2b2b2b" stroke="#2b2b2b" stroke-width="0.12">Unedited</text>
<line x1="5.8" y1="572.2" x2="15.4" y2="572.2" stroke="#ef8f96" stroke-width="1"/>
<text x="19.8" y="574.2" font-size="6.5" fill="#2b2b2b" stroke="#2b2b2b" stroke-width="0.12">Cas9</text>
<line x1="5.8" y1="583.2" x2="15.4" y2="583.2" stroke="#e0342f" stroke-width="1"/>
<text x="19.8" y="585.5" font-size="6.5" fill="#2b2b2b" stroke="#2b2b2b" stroke-width="0.12">Cas9 + AZD7648</text>
<line x1="5.8" y1="594.6" x2="15.4" y2="594.6" stroke="#eeb0f0" stroke-width="1"/>
<text x="19.8" y="596.9" font-size="6.5" fill="#2b2b2b" stroke="#2b2b2b" stroke-width="0.12">Cas9 + PolQi2</text>
<line x1="5.8" y1="605.8" x2="15.4" y2="605.8" stroke="#7d2b9c" stroke-width="1"/>
<text x="19.8" y="608.1" font-size="6.5" fill="#2b2b2b" stroke="#2b2b2b" stroke-width="0.12">Cas9 + AZD7648 + PolQi2</text>
<text x="205.2" y="496.3" font-size="7.1" font-weight="bold" text-anchor="middle" font-style="italic" stroke="#111111" stroke-width="0.17">HBB</text>
<path d="M142.6 509.3 C147.17 509.3 161.53 509.3 170 509.3 C178.47 509.3 189.4 509.02 193.4 509.3 C197.4 509.58 193.9 510.72 194 511 L194.55 511.8" fill="none" stroke="#cfcbd9" stroke-width="0.8" stroke-linejoin="round"/>
<path d="M142.6 509.3 C146.33 509.32 160.1 509.33 165 509.4 C169.9 509.47 169.95 509.55 172 509.7 C174.05 509.85 175.27 509.73 177.3 510.3 C179.33 510.87 182.12 511.93 184.2 513.1 C186.28 514.27 188.28 515.68 189.8 517.3 C191.32 518.92 192.72 521.88 193.3 522.8 L194.55 523.6" fill="none" stroke="#7a2396" stroke-width="1.15" stroke-linejoin="round"/>
<path d="M142.6 509.3 C145.17 509.3 154.43 509.28 158 509.3 C161.57 509.32 162.18 509.32 164 509.4 C165.82 509.48 166.92 509.18 168.9 509.8 C170.88 510.42 173.8 511.63 175.9 513.1 C178 514.57 179.65 516.17 181.5 518.6 C183.35 521.03 185.38 524.92 187 527.7 C188.62 530.48 190.08 533.1 191.2 535.3 C192.32 537.5 193.28 539.97 193.7 540.9 L194.55 541.7" fill="none" stroke="#ee2b24" stroke-width="1.15" stroke-linejoin="round"/>
<path d="M142.6 509.3 C147.17 509.32 163.77 509.32 170 509.4 C176.23 509.48 177.23 509.5 180 509.8 C182.77 510.1 184.7 510.52 186.6 511.2 C188.5 511.88 190.23 512.87 191.4 513.9 C192.57 514.93 193.23 516.82 193.6 517.4 L194.55 518.2" fill="none" stroke="#f08af0" stroke-width="1" stroke-linejoin="round"/>
<path d="M142.6 509.3 C147.17 509.32 163.93 509.32 170 509.4 C176.07 509.48 176.4 509.53 179 509.8 C181.6 510.07 183.57 510.25 185.6 511 C187.63 511.75 189.85 512.93 191.2 514.3 C192.55 515.67 193.28 518.38 193.7 519.2 L194.55 520" fill="none" stroke="#ee6f79" stroke-width="1" stroke-linejoin="round"/>
<path d="M194.55 519.6 V595.7" fill="none" stroke="#ee6f79" stroke-width="0.85"/>
<path d="M194.55 517.8 V519.6" fill="none" stroke="#f08af0" stroke-width="0.85"/>
<path d="M194.55 511.4 V517.8" fill="none" stroke="#cfcbd9" stroke-width="0.85"/>
<line x1="142.6" y1="508.85" x2="142.6" y2="596.15" stroke="#111111" stroke-width="0.9"/>
<line x1="142.15" y1="595.7" x2="199.95" y2="595.7" stroke="#111111" stroke-width="0.9"/>
<line x1="138.6" y1="595.7" x2="142.6" y2="595.7" stroke="#111111" stroke-width="0.9"/>
<text x="137.45" y="597.99" font-size="6.4" font-weight="bold" text-anchor="end" stroke="#111111" stroke-width="0.17">0</text>
<line x1="138.6" y1="578.42" x2="142.6" y2="578.42" stroke="#111111" stroke-width="0.9"/>
<text x="137.45" y="580.71" font-size="6.4" font-weight="bold" text-anchor="end" stroke="#111111" stroke-width="0.17">20</text>
<line x1="138.6" y1="561.14" x2="142.6" y2="561.14" stroke="#111111" stroke-width="0.9"/>
<text x="137.45" y="563.43" font-size="6.4" font-weight="bold" text-anchor="end" stroke="#111111" stroke-width="0.17">40</text>
<line x1="138.6" y1="543.86" x2="142.6" y2="543.86" stroke="#111111" stroke-width="0.9"/>
<text x="137.45" y="546.15" font-size="6.4" font-weight="bold" text-anchor="end" stroke="#111111" stroke-width="0.17">60</text>
<line x1="138.6" y1="526.58" x2="142.6" y2="526.58" stroke="#111111" stroke-width="0.9"/>
<text x="137.45" y="528.87" font-size="6.4" font-weight="bold" text-anchor="end" stroke="#111111" stroke-width="0.17">80</text>
<line x1="138.6" y1="509.3" x2="142.6" y2="509.3" stroke="#111111" stroke-width="0.9"/>
<text x="137.45" y="511.59" font-size="6.4" font-weight="bold" text-anchor="end" stroke="#111111" stroke-width="0.17">100</text>
<text x="122.3" y="552.5" font-size="7.05" font-weight="bold" text-anchor="middle" transform="rotate(-90 122.3 552.5)" stroke="#111111" stroke-width="0.17">Percent of total reads</text>
<line x1="153.4" y1="595.7" x2="153.4" y2="599.2" stroke="#111111" stroke-width="1"/>
<text x="153.4" y="606.6" font-size="6.55" font-weight="bold" text-anchor="middle" stroke="#111111" stroke-width="0.17">1kb</text>
<line x1="176.6" y1="595.7" x2="176.6" y2="599.2" stroke="#111111" stroke-width="1"/>
<text x="176.6" y="606.6" font-size="6.55" font-weight="bold" text-anchor="middle" stroke="#111111" stroke-width="0.17">3kb</text>
<line x1="199.5" y1="595.7" x2="199.5" y2="599.2" stroke="#111111" stroke-width="1"/>
<text x="199.5" y="606.6" font-size="6.55" font-weight="bold" text-anchor="middle" stroke="#111111" stroke-width="0.17">5kb</text>
<text x="170.4" y="617.1" font-size="7.1" font-weight="bold" text-anchor="middle" stroke="#111111" stroke-width="0.17">Read length</text>
<rect x="241.75" y="582.93" width="8.7" height="12.57" fill="#eb5f6b" stroke="#c8505b" stroke-width="0.5"/>
<rect x="255.05" y="583.51" width="8.7" height="11.99" fill="#f06ef0" stroke="#cc5ccc" stroke-width="0.5"/>
<rect x="268.45" y="519.63" width="8.7" height="75.87" fill="#ff2015" stroke="#d81b12" stroke-width="0.5"/>
<rect x="282.15" y="573.05" width="8.7" height="22.45" fill="#7f1f98" stroke="#6a1a80" stroke-width="0.5"/>
<line x1="237.4" y1="507.95" x2="237.4" y2="595.95" stroke="#111111" stroke-width="0.9"/>
<line x1="236.95" y1="595.5" x2="295.1" y2="595.5" stroke="#111111" stroke-width="0.9"/>
<line x1="233.7" y1="595.5" x2="237.4" y2="595.5" stroke="#111111" stroke-width="0.9"/>
<text x="232.55" y="597.79" font-size="6.4" font-weight="bold" text-anchor="end" stroke="#111111" stroke-width="0.17">0</text>
<line x1="233.7" y1="566.47" x2="237.4" y2="566.47" stroke="#111111" stroke-width="0.9"/>
<text x="232.55" y="568.76" font-size="6.4" font-weight="bold" text-anchor="end" stroke="#111111" stroke-width="0.17">5</text>
<line x1="233.7" y1="537.43" x2="237.4" y2="537.43" stroke="#111111" stroke-width="0.9"/>
<text x="232.55" y="539.72" font-size="6.4" font-weight="bold" text-anchor="end" stroke="#111111" stroke-width="0.17">10</text>
<line x1="233.7" y1="508.4" x2="237.4" y2="508.4" stroke="#111111" stroke-width="0.9"/>
<text x="232.55" y="510.69" font-size="6.4" font-weight="bold" text-anchor="end" stroke="#111111" stroke-width="0.17">15</text>
<text x="221.69" y="551.95" font-size="7" font-weight="bold" text-anchor="middle" transform="rotate(-90 221.69 551.95)" stroke="#111111" stroke-width="0.17">Kilobase-scale deletion (%)</text>
<line x1="246.1" y1="595.5" x2="246.1" y2="599.1" stroke="#111111" stroke-width="1"/>
<line x1="259.4" y1="595.5" x2="259.4" y2="599.1" stroke="#111111" stroke-width="1"/>
<line x1="272.8" y1="595.5" x2="272.8" y2="599.1" stroke="#111111" stroke-width="1"/>
<line x1="286.5" y1="595.5" x2="286.5" y2="599.1" stroke="#111111" stroke-width="1"/>
<text x="233.3" y="607.93" font-size="6.5" font-weight="bold" text-anchor="end" stroke="#111111" stroke-width="0.17">Cas9</text>
<circle cx="246.1" cy="605.6" r="1.45" fill="#111"/>
<circle cx="259.4" cy="605.6" r="1.45" fill="#111"/>
<circle cx="272.8" cy="605.6" r="1.45" fill="#111"/>
<circle cx="286.5" cy="605.6" r="1.45" fill="#111"/>
<text x="233.3" y="615.43" font-size="6.5" font-weight="bold" text-anchor="end" stroke="#111111" stroke-width="0.17">PolQi2</text>
<circle cx="259.4" cy="613.1" r="1.45" fill="#111"/>
<circle cx="286.5" cy="613.1" r="1.45" fill="#111"/>
<text x="233.3" y="623.03" font-size="6.5" font-weight="bold" text-anchor="end" stroke="#111111" stroke-width="0.17">AZD7648</text>
<circle cx="272.8" cy="620.7" r="1.45" fill="#111"/>
<circle cx="286.5" cy="620.7" r="1.45" fill="#111"/>
<text x="412" y="496.3" font-size="7.1" font-weight="bold" text-anchor="middle" font-style="italic" stroke="#111111" stroke-width="0.17">CCR5</text>
<path d="M341.1 508.5 C345.92 508.52 362.68 508.52 370 508.6 C377.32 508.68 381.3 508.8 385 509 C388.7 509.2 391 509.67 392.2 509.8 L392.9 510.6" fill="none" stroke="#cfcbd9" stroke-width="0.8" stroke-linejoin="round"/>
<path d="M341.1 508.5 C344.58 508.52 357.18 508.53 362 508.6 C366.82 508.67 367.68 508.73 370 508.9 C372.32 509.07 373.98 509.02 375.9 509.6 C377.82 510.18 379.88 511.23 381.5 512.4 C383.12 513.57 384.22 515.45 385.6 516.6 C386.98 517.75 388.73 518.62 389.8 519.3 C390.87 519.98 391.63 520.47 392 520.7 L392.9 521.5" fill="none" stroke="#7a2396" stroke-width="1.15" stroke-linejoin="round"/>
<path d="M341.1 508.5 C343.42 508.5 351.68 508.48 355 508.5 C358.32 508.52 359.13 508.53 361 508.6 C362.87 508.67 364.42 508.5 366.2 508.9 C367.98 509.3 369.85 509.83 371.7 511 C373.55 512.17 375.67 513.58 377.3 515.9 C378.93 518.22 380.12 521.67 381.5 524.9 C382.88 528.13 384.22 532.17 385.6 535.3 C386.98 538.43 388.68 541.15 389.8 543.7 C390.92 546.25 391.88 549.45 392.3 550.6 L392.9 551.4" fill="none" stroke="#ee2b24" stroke-width="1.15" stroke-linejoin="round"/>
<path d="M341.1 508.5 C345.92 508.55 363.02 508.62 370 508.8 C376.98 508.98 379.33 509.27 383 509.6 C386.67 509.93 390.5 510.6 392 510.8 L392.9 511.6" fill="none" stroke="#f08af0" stroke-width="1" stroke-linejoin="round"/>
<path d="M341.1 508.5 C345.92 508.57 363.02 508.67 370 508.9 C376.98 509.13 379.33 509.48 383 509.9 C386.67 510.32 390.5 511.15 392 511.4 L392.9 512.2" fill="none" stroke="#ee6f79" stroke-width="1" stroke-linejoin="round"/>
<path d="M392.9 511.8 V595.7" fill="none" stroke="#ee6f79" stroke-width="0.85"/>
<path d="M392.9 511.2 V511.8" fill="none" stroke="#f08af0" stroke-width="0.85"/>
<path d="M392.9 510.2 V511.2" fill="none" stroke="#cfcbd9" stroke-width="0.85"/>
<line x1="341.1" y1="508.15" x2="341.1" y2="596.15" stroke="#111111" stroke-width="0.9"/>
<line x1="340.65" y1="595.7" x2="399.45" y2="595.7" stroke="#111111" stroke-width="0.9"/>
<line x1="337.1" y1="595.7" x2="341.1" y2="595.7" stroke="#111111" stroke-width="0.9"/>
<text x="335.95" y="597.99" font-size="6.4" font-weight="bold" text-anchor="end" stroke="#111111" stroke-width="0.17">0</text>
<line x1="337.1" y1="578.28" x2="341.1" y2="578.28" stroke="#111111" stroke-width="0.9"/>
<text x="335.95" y="580.57" font-size="6.4" font-weight="bold" text-anchor="end" stroke="#111111" stroke-width="0.17">20</text>
<line x1="337.1" y1="560.86" x2="341.1" y2="560.86" stroke="#111111" stroke-width="0.9"/>
<text x="335.95" y="563.15" font-size="6.4" font-weight="bold" text-anchor="end" stroke="#111111" stroke-width="0.17">40</text>
<line x1="337.1" y1="543.44" x2="341.1" y2="543.44" stroke="#111111" stroke-width="0.9"/>
<text x="335.95" y="545.73" font-size="6.4" font-weight="bold" text-anchor="end" stroke="#111111" stroke-width="0.17">60</text>
<line x1="337.1" y1="526.02" x2="341.1" y2="526.02" stroke="#111111" stroke-width="0.9"/>
<text x="335.95" y="528.31" font-size="6.4" font-weight="bold" text-anchor="end" stroke="#111111" stroke-width="0.17">80</text>
<line x1="337.1" y1="508.6" x2="341.1" y2="508.6" stroke="#111111" stroke-width="0.9"/>
<text x="335.95" y="510.89" font-size="6.4" font-weight="bold" text-anchor="end" stroke="#111111" stroke-width="0.17">100</text>
<text x="320.8" y="552.15" font-size="7.05" font-weight="bold" text-anchor="middle" transform="rotate(-90 320.8 552.15)" stroke="#111111" stroke-width="0.17">Percent of total reads</text>
<line x1="352.7" y1="595.7" x2="352.7" y2="599.2" stroke="#111111" stroke-width="1"/>
<text x="352.7" y="606.6" font-size="6.55" font-weight="bold" text-anchor="middle" stroke="#111111" stroke-width="0.17">1kb</text>
<line x1="375.8" y1="595.7" x2="375.8" y2="599.2" stroke="#111111" stroke-width="1"/>
<text x="375.8" y="606.6" font-size="6.55" font-weight="bold" text-anchor="middle" stroke="#111111" stroke-width="0.17">3kb</text>
<line x1="399" y1="595.7" x2="399" y2="599.2" stroke="#111111" stroke-width="1"/>
<text x="399" y="606.6" font-size="6.55" font-weight="bold" text-anchor="middle" stroke="#111111" stroke-width="0.17">5kb</text>
<text x="369.9" y="617.1" font-size="7.1" font-weight="bold" text-anchor="middle" stroke="#111111" stroke-width="0.17">Read length</text>
<rect x="440.35" y="590.33" width="8.6" height="5.47" fill="#eb5f6b" stroke="#c8505b" stroke-width="0.5"/>
<rect x="453.85" y="592.29" width="8.6" height="3.51" fill="#f06ef0" stroke="#cc5ccc" stroke-width="0.5"/>
<rect x="467.35" y="517.08" width="8.6" height="78.72" fill="#ff2015" stroke="#d81b12" stroke-width="0.5"/>
<rect x="480.75" y="575.94" width="8.6" height="19.86" fill="#7f1f98" stroke="#6a1a80" stroke-width="0.5"/>
<line x1="435.9" y1="508.15" x2="435.9" y2="596.25" stroke="#111111" stroke-width="0.9"/>
<line x1="435.45" y1="595.8" x2="493.6" y2="595.8" stroke="#111111" stroke-width="0.9"/>
<line x1="432.2" y1="595.8" x2="435.9" y2="595.8" stroke="#111111" stroke-width="0.9"/>
<text x="431.05" y="598.09" font-size="6.4" font-weight="bold" text-anchor="end" stroke="#111111" stroke-width="0.17">0</text>
<line x1="432.2" y1="574" x2="435.9" y2="574" stroke="#111111" stroke-width="0.9"/>
<text x="431.05" y="576.29" font-size="6.4" font-weight="bold" text-anchor="end" stroke="#111111" stroke-width="0.17">5</text>
<line x1="432.2" y1="552.2" x2="435.9" y2="552.2" stroke="#111111" stroke-width="0.9"/>
<text x="431.05" y="554.49" font-size="6.4" font-weight="bold" text-anchor="end" stroke="#111111" stroke-width="0.17">10</text>
<line x1="432.2" y1="530.4" x2="435.9" y2="530.4" stroke="#111111" stroke-width="0.9"/>
<text x="431.05" y="532.69" font-size="6.4" font-weight="bold" text-anchor="end" stroke="#111111" stroke-width="0.17">15</text>
<line x1="432.2" y1="508.6" x2="435.9" y2="508.6" stroke="#111111" stroke-width="0.9"/>
<text x="431.05" y="510.89" font-size="6.4" font-weight="bold" text-anchor="end" stroke="#111111" stroke-width="0.17">20</text>
<text x="420.19" y="552.2" font-size="7" font-weight="bold" text-anchor="middle" transform="rotate(-90 420.19 552.2)" stroke="#111111" stroke-width="0.17">Kilobase-scale deletion (%)</text>
<line x1="444.65" y1="595.8" x2="444.65" y2="599.4" stroke="#111111" stroke-width="1"/>
<line x1="458.15" y1="595.8" x2="458.15" y2="599.4" stroke="#111111" stroke-width="1"/>
<line x1="471.65" y1="595.8" x2="471.65" y2="599.4" stroke="#111111" stroke-width="1"/>
<line x1="485.05" y1="595.8" x2="485.05" y2="599.4" stroke="#111111" stroke-width="1"/>
<text x="431.6" y="608.43" font-size="6.5" font-weight="bold" text-anchor="end" stroke="#111111" stroke-width="0.17">Cas9</text>
<circle cx="444.7" cy="606.1" r="1.45" fill="#111"/>
<circle cx="458.2" cy="606.1" r="1.45" fill="#111"/>
<circle cx="471.7" cy="606.1" r="1.45" fill="#111"/>
<circle cx="485.1" cy="606.1" r="1.45" fill="#111"/>
<text x="431.6" y="616.03" font-size="6.5" font-weight="bold" text-anchor="end" stroke="#111111" stroke-width="0.17">PolQi2</text>
<circle cx="458.2" cy="613.7" r="1.45" fill="#111"/>
<circle cx="485.1" cy="613.7" r="1.45" fill="#111"/>
<text x="431.6" y="623.43" font-size="6.5" font-weight="bold" text-anchor="end" stroke="#111111" stroke-width="0.17">AZD7648</text>
<circle cx="471.7" cy="621.1" r="1.45" fill="#111"/>
<circle cx="485.1" cy="621.1" r="1.45" fill="#111"/>
<text x="599.9" y="496.2" font-size="7.1" font-weight="bold" text-anchor="middle" font-style="italic" stroke="#111111" stroke-width="0.17">GAPDH</text>
<path d="M532.4 507.6 C537 507.62 551.9 507.63 560 507.7 C568.1 507.77 577.38 507.78 581 508 C584.62 508.22 581.58 508.83 581.7 509 L582.15 509.8" fill="none" stroke="#cfcbd9" stroke-width="0.8" stroke-linejoin="round"/>
<path d="M532.4 507.8 C534.13 507.93 538.75 508.18 542.8 508.6 C546.85 509.02 553.45 509.67 556.7 510.3 C559.95 510.93 559.98 511.13 562.3 512.4 C564.62 513.67 568.28 516.67 570.6 517.9 C572.92 519.13 574.43 519.22 576.2 519.8 C577.97 520.38 580.37 521.13 581.2 521.4 L582.15 522.2" fill="none" stroke="#7a2396" stroke-width="1.15" stroke-linejoin="round"/>
<path d="M532.4 507.8 C534.5 507.92 540.95 508.2 545 508.5 C549.05 508.8 552.43 509.12 556.7 509.6 C560.97 510.08 566.52 510.82 570.6 511.4 C574.68 511.98 579.43 512.82 581.2 513.1 L582.15 513.9" fill="none" stroke="#ee6f79" stroke-width="1" stroke-linejoin="round"/>
<path d="M532.4 507.8 C534.5 507.88 540.4 508.1 545 508.3 C549.6 508.5 555.5 508.72 560 509 C564.5 509.28 568.47 509.6 572 510 C575.53 510.4 579.67 511.17 581.2 511.4 L582.15 512.2" fill="none" stroke="#f08af0" stroke-width="1" stroke-linejoin="round"/>
<path d="M532.4 507.8 C533.9 508.1 538.73 508.83 541.4 509.6 C544.07 510.37 545.85 511.02 548.4 512.4 C550.95 513.78 554.15 515.23 556.7 517.9 C559.25 520.57 561.38 524.57 563.7 528.4 C566.02 532.23 568.52 537.2 570.6 540.9 C572.68 544.6 574.38 547.7 576.2 550.6 C578.02 553.5 580.62 557.02 581.5 558.3 L582.15 559.1" fill="none" stroke="#ee2b24" stroke-width="1.15" stroke-linejoin="round"/>
<path d="M582.15 558.7 V595.6" fill="none" stroke="#ee2b24" stroke-width="0.85"/>
<path d="M582.15 511.8 V558.7" fill="none" stroke="#f08af0" stroke-width="0.85"/>
<path d="M582.15 509.4 V511.8" fill="none" stroke="#cfcbd9" stroke-width="0.85"/>
<line x1="528.4" y1="507.15" x2="528.4" y2="596.05" stroke="#111111" stroke-width="0.9"/>
<line x1="527.95" y1="595.6" x2="587.15" y2="595.6" stroke="#111111" stroke-width="0.9"/>
<line x1="524.4" y1="595.6" x2="528.4" y2="595.6" stroke="#111111" stroke-width="0.9"/>
<text x="523.25" y="597.89" font-size="6.4" font-weight="bold" text-anchor="end" stroke="#111111" stroke-width="0.17">0</text>
<line x1="524.4" y1="578" x2="528.4" y2="578" stroke="#111111" stroke-width="0.9"/>
<text x="523.25" y="580.29" font-size="6.4" font-weight="bold" text-anchor="end" stroke="#111111" stroke-width="0.17">20</text>
<line x1="524.4" y1="560.4" x2="528.4" y2="560.4" stroke="#111111" stroke-width="0.9"/>
<text x="523.25" y="562.69" font-size="6.4" font-weight="bold" text-anchor="end" stroke="#111111" stroke-width="0.17">40</text>
<line x1="524.4" y1="542.8" x2="528.4" y2="542.8" stroke="#111111" stroke-width="0.9"/>
<text x="523.25" y="545.09" font-size="6.4" font-weight="bold" text-anchor="end" stroke="#111111" stroke-width="0.17">60</text>
<line x1="524.4" y1="525.2" x2="528.4" y2="525.2" stroke="#111111" stroke-width="0.9"/>
<text x="523.25" y="527.49" font-size="6.4" font-weight="bold" text-anchor="end" stroke="#111111" stroke-width="0.17">80</text>
<line x1="524.4" y1="507.6" x2="528.4" y2="507.6" stroke="#111111" stroke-width="0.9"/>
<text x="523.25" y="509.89" font-size="6.4" font-weight="bold" text-anchor="end" stroke="#111111" stroke-width="0.17">100</text>
<text x="508.1" y="551.6" font-size="7.05" font-weight="bold" text-anchor="middle" transform="rotate(-90 508.1 551.6)" stroke="#111111" stroke-width="0.17">Percent of total reads</text>
<line x1="540.2" y1="595.6" x2="540.2" y2="599.1" stroke="#111111" stroke-width="1"/>
<text x="540.2" y="606.5" font-size="6.55" font-weight="bold" text-anchor="middle" stroke="#111111" stroke-width="0.17">1kb</text>
<line x1="563.4" y1="595.6" x2="563.4" y2="599.1" stroke="#111111" stroke-width="1"/>
<text x="563.4" y="606.5" font-size="6.55" font-weight="bold" text-anchor="middle" stroke="#111111" stroke-width="0.17">3kb</text>
<line x1="586.7" y1="595.6" x2="586.7" y2="599.1" stroke="#111111" stroke-width="1"/>
<text x="586.7" y="606.5" font-size="6.55" font-weight="bold" text-anchor="middle" stroke="#111111" stroke-width="0.17">5kb</text>
<text x="557" y="615.8" font-size="7.1" font-weight="bold" text-anchor="middle" stroke="#111111" stroke-width="0.17">Read length</text>
<rect x="631.15" y="589.36" width="8.6" height="6.44" fill="#eb5f6b" stroke="#c8505b" stroke-width="0.5"/>
<rect x="644.55" y="592.85" width="8.6" height="2.95" fill="#f06ef0" stroke="#cc5ccc" stroke-width="0.5"/>
<rect x="657.95" y="527.83" width="8.6" height="67.97" fill="#ff2015" stroke="#d81b12" stroke-width="0.5"/>
<rect x="671.25" y="577.3" width="8.6" height="18.5" fill="#7f1f98" stroke="#6a1a80" stroke-width="0.5"/>
<line x1="626.6" y1="507.95" x2="626.6" y2="596.25" stroke="#111111" stroke-width="0.9"/>
<line x1="626.15" y1="595.8" x2="684" y2="595.8" stroke="#111111" stroke-width="0.9"/>
<line x1="622.9" y1="595.8" x2="626.6" y2="595.8" stroke="#111111" stroke-width="0.9"/>
<text x="621.75" y="598.09" font-size="6.4" font-weight="bold" text-anchor="end" stroke="#111111" stroke-width="0.17">0</text>
<line x1="622.9" y1="578.32" x2="626.6" y2="578.32" stroke="#111111" stroke-width="0.9"/>
<text x="621.75" y="580.61" font-size="6.4" font-weight="bold" text-anchor="end" stroke="#111111" stroke-width="0.17">10</text>
<line x1="622.9" y1="560.84" x2="626.6" y2="560.84" stroke="#111111" stroke-width="0.9"/>
<text x="621.75" y="563.13" font-size="6.4" font-weight="bold" text-anchor="end" stroke="#111111" stroke-width="0.17">20</text>
<line x1="622.9" y1="543.36" x2="626.6" y2="543.36" stroke="#111111" stroke-width="0.9"/>
<text x="621.75" y="545.65" font-size="6.4" font-weight="bold" text-anchor="end" stroke="#111111" stroke-width="0.17">30</text>
<line x1="622.9" y1="525.88" x2="626.6" y2="525.88" stroke="#111111" stroke-width="0.9"/>
<text x="621.75" y="528.17" font-size="6.4" font-weight="bold" text-anchor="end" stroke="#111111" stroke-width="0.17">40</text>
<line x1="622.9" y1="508.4" x2="626.6" y2="508.4" stroke="#111111" stroke-width="0.9"/>
<text x="621.75" y="510.69" font-size="6.4" font-weight="bold" text-anchor="end" stroke="#111111" stroke-width="0.17">50</text>
<text x="610.88" y="552.1" font-size="7" font-weight="bold" text-anchor="middle" transform="rotate(-90 610.88 552.1)" stroke="#111111" stroke-width="0.17">Kilobase-scale deletion (%)</text>
<line x1="635.45" y1="595.8" x2="635.45" y2="599.4" stroke="#111111" stroke-width="1"/>
<line x1="648.85" y1="595.8" x2="648.85" y2="599.4" stroke="#111111" stroke-width="1"/>
<line x1="662.25" y1="595.8" x2="662.25" y2="599.4" stroke="#111111" stroke-width="1"/>
<line x1="675.55" y1="595.8" x2="675.55" y2="599.4" stroke="#111111" stroke-width="1"/>
<text x="622.2" y="608.33" font-size="6.5" font-weight="bold" text-anchor="end" stroke="#111111" stroke-width="0.17">Cas9</text>
<circle cx="635.5" cy="606" r="1.45" fill="#111"/>
<circle cx="648.9" cy="606" r="1.45" fill="#111"/>
<circle cx="662.3" cy="606" r="1.45" fill="#111"/>
<circle cx="675.6" cy="606" r="1.45" fill="#111"/>
<text x="622.2" y="615.63" font-size="6.5" font-weight="bold" text-anchor="end" stroke="#111111" stroke-width="0.17">PolQi2</text>
<circle cx="648.9" cy="613.3" r="1.45" fill="#111"/>
<circle cx="675.6" cy="613.3" r="1.45" fill="#111"/>
<text x="622.2" y="622.93" font-size="6.5" font-weight="bold" text-anchor="end" stroke="#111111" stroke-width="0.17">AZD7648</text>
<circle cx="662.3" cy="620.6" r="1.45" fill="#111"/>
<circle cx="675.6" cy="620.6" r="1.45" fill="#111"/>
<!-- panel f -->
<text x="1.9" y="650.8" font-size="10.6" font-weight="bold" stroke="#111111" stroke-width="0.17">f</text>
<text x="24.9" y="678.8" font-size="8.5" font-weight="bold" stroke="#111111" stroke-width="0.17">RPE-1 <tspan font-style="italic">p53</tspan> <tspan font-size="5.95" dy="-2.7">+/+</tspan></text>
<g transform="translate(49.7 699.2) scale(1.02)">
<path d="M-29.8 1.3 C-25 0 -21 -1.2 -17.9 -2.3 C-14 -3.8 -10.5 -5.6 -7.7 -6.5 C-5 -7.3 -2 -7.5 0.5 -7.5 C3 -7.5 5.5 -7.2 7.7 -6.7 C12 -5.6 16 -4 19.9 -2.8 C23 -1.9 26 -1.2 29.3 -0.7 C26.5 0.2 24 0.8 22 1.3 C19.5 2 17 2.9 14.8 3.7 C14.3 4.4 14.2 4.9 13.8 5.4 C12 6 9.8 6.5 7.7 6.9 C5 7.5 2 8 -0.5 8 C-4 7.6 -7.5 6.6 -10.7 5.7 C-13 5.1 -15.5 4.4 -17.9 3.9 C-22 3 -26 2.1 -29.8 1.3Z" fill="#f9dcc5"/>
<path d="M-15 -3.4 C-9 -2.2 -3.5 -1.4 0 -0.6 C5 0.6 9.5 2.2 14 3.8 M14.5 -4.4 C9.5 -3.2 4 -1.8 0 -0.6 C-4.5 0.8 -9.5 2.6 -14.5 4.5" fill="none" stroke="#fbe6d6" stroke-width="0.7"/>
<ellipse cx="0.0" cy="-4.8" rx="2.4" ry="1.65" fill="#ecae8f"/>
<ellipse cx="-14.3" cy="-0.1" rx="2.4" ry="1.65" fill="#ecae8f"/>
<ellipse cx="15.8" cy="-0.9" rx="2.4" ry="1.65" fill="#ecae8f"/>
<ellipse cx="0.5" cy="3.9" rx="2.4" ry="1.65" fill="#ecae8f"/>
<ellipse cx="0" cy="-0.65" rx="1.6" ry="0.75" fill="#ffffff"/>
</g>
<line x1="6.5" y1="720.7" x2="15.9" y2="720.7" stroke="#cbc3da" stroke-width="1"/>
<text x="20" y="722.5" font-size="6.5" fill="#2b2b2b" stroke="#2b2b2b" stroke-width="0.12">Unedited</text>
<line x1="6.5" y1="733" x2="15.9" y2="733" stroke="#93dcf3" stroke-width="1"/>
<text x="20" y="735" font-size="6.5" fill="#2b2b2b" stroke="#2b2b2b" stroke-width="0.12">Cas9 + ssODN</text>
<line x1="6.5" y1="744.4" x2="15.9" y2="744.4" stroke="#4a86e6" stroke-width="1"/>
<text x="20" y="746.4" font-size="6.5" fill="#2b2b2b" stroke="#2b2b2b" stroke-width="0.12">Cas9 + ssODN + AZD7648</text>
<line x1="6.5" y1="757.1" x2="15.9" y2="757.1" stroke="#a2f090" stroke-width="1"/>
<text x="20" y="758.9" font-size="6.5" fill="#2b2b2b" stroke="#2b2b2b" stroke-width="0.12">Cas9 + ssODN + PolQi2</text>
<line x1="6.5" y1="770" x2="15.9" y2="770" stroke="#4c9a3e" stroke-width="1"/>
<text x="20" y="772" font-size="6.5" fill="#2b2b2b" stroke="#2b2b2b" stroke-width="0.12">Cas9 + ssODN + AZD7648 + PolQi2</text>
<text x="206.5" y="654.6" font-size="7.1" font-weight="bold" text-anchor="middle" font-style="italic" stroke="#111111" stroke-width="0.17">HBB</text>
<path d="M141.9 667.5 C146.58 667.5 161.42 667.5 170 667.5 C178.58 667.5 189.4 667.25 193.4 667.5 C197.4 667.75 193.9 668.75 194 669 L194.45 669.8" fill="none" stroke="#cdc9dc" stroke-width="0.8" stroke-linejoin="round"/>
<path d="M141.9 667.5 C144.92 667.52 155.5 667.53 160 667.6 C164.5 667.67 166.02 667.68 168.9 667.9 C171.78 668.12 174.75 668.27 177.3 668.9 C179.85 669.53 182.12 670.65 184.2 671.7 C186.28 672.75 188.28 674.08 189.8 675.2 C191.32 676.32 192.72 677.87 193.3 678.4 L194.45 679.2" fill="none" stroke="#3f7fe4" stroke-width="1.15" stroke-linejoin="round"/>
<path d="M141.9 667.5 C147.42 667.53 167.65 667.53 175 667.7 C182.35 667.87 182.95 668.02 186 668.5 C189.05 668.98 192.08 670.25 193.3 670.6 L194.45 671.4" fill="none" stroke="#3a8f2b" stroke-width="0.9" stroke-linejoin="round"/>
<path d="M141.9 667.5 C147.42 667.55 167.65 667.57 175 667.8 C182.35 668.03 182.95 668.3 186 668.9 C189.05 669.5 192.08 670.98 193.3 671.4 L194.45 672.2" fill="none" stroke="#8eea7c" stroke-width="0.9" stroke-linejoin="round"/>
<path d="M141.9 667.5 C147.42 667.55 167.72 667.62 175 667.8 C182.28 667.98 182.55 667.92 185.6 668.6 C188.65 669.28 192.02 671.35 193.3 671.9 L194.45 672.7" fill="none" stroke="#8fdaf3" stroke-width="1.25" stroke-linejoin="round"/>
<path d="M194.45 672.3 V754.7" fill="none" stroke="#8fdaf3" stroke-width="0.85"/>
<path d="M194.45 671.8 V672.3" fill="none" stroke="#8eea7c" stroke-width="0.85"/>
<path d="M194.45 671 V671.8" fill="none" stroke="#3a8f2b" stroke-width="0.85"/>
<path d="M194.45 669.4 V671" fill="none" stroke="#cdc9dc" stroke-width="0.85"/>
<line x1="141.9" y1="667.15" x2="141.9" y2="755.15" stroke="#111111" stroke-width="0.9"/>
<line x1="141.45" y1="754.7" x2="199.95" y2="754.7" stroke="#111111" stroke-width="0.9"/>
<line x1="137.9" y1="754.7" x2="141.9" y2="754.7" stroke="#111111" stroke-width="0.9"/>
<text x="136.75" y="756.99" font-size="6.4" font-weight="bold" text-anchor="end" stroke="#111111" stroke-width="0.17">0</text>
<line x1="137.9" y1="737.28" x2="141.9" y2="737.28" stroke="#111111" stroke-width="0.9"/>
<text x="136.75" y="739.57" font-size="6.4" font-weight="bold" text-anchor="end" stroke="#111111" stroke-width="0.17">20</text>
<line x1="137.9" y1="719.86" x2="141.9" y2="719.86" stroke="#111111" stroke-width="0.9"/>
<text x="136.75" y="722.15" font-size="6.4" font-weight="bold" text-anchor="end" stroke="#111111" stroke-width="0.17">40</text>
<line x1="137.9" y1="702.44" x2="141.9" y2="702.44" stroke="#111111" stroke-width="0.9"/>
<text x="136.75" y="704.73" font-size="6.4" font-weight="bold" text-anchor="end" stroke="#111111" stroke-width="0.17">60</text>
<line x1="137.9" y1="685.02" x2="141.9" y2="685.02" stroke="#111111" stroke-width="0.9"/>
<text x="136.75" y="687.31" font-size="6.4" font-weight="bold" text-anchor="end" stroke="#111111" stroke-width="0.17">80</text>
<line x1="137.9" y1="667.6" x2="141.9" y2="667.6" stroke="#111111" stroke-width="0.9"/>
<text x="136.75" y="669.89" font-size="6.4" font-weight="bold" text-anchor="end" stroke="#111111" stroke-width="0.17">100</text>
<text x="121.6" y="711.15" font-size="7.05" font-weight="bold" text-anchor="middle" transform="rotate(-90 121.6 711.15)" stroke="#111111" stroke-width="0.17">Percent of total reads</text>
<line x1="153.3" y1="754.7" x2="153.3" y2="758.2" stroke="#111111" stroke-width="1"/>
<text x="153.3" y="765.6" font-size="6.55" font-weight="bold" text-anchor="middle" stroke="#111111" stroke-width="0.17">1kb</text>
<line x1="176.5" y1="754.7" x2="176.5" y2="758.2" stroke="#111111" stroke-width="1"/>
<text x="176.5" y="765.6" font-size="6.55" font-weight="bold" text-anchor="middle" stroke="#111111" stroke-width="0.17">3kb</text>
<line x1="199.5" y1="754.7" x2="199.5" y2="758.2" stroke="#111111" stroke-width="1"/>
<text x="199.5" y="765.6" font-size="6.55" font-weight="bold" text-anchor="middle" stroke="#111111" stroke-width="0.17">5kb</text>
<text x="170.4" y="776.1" font-size="7.1" font-weight="bold" text-anchor="middle" stroke="#111111" stroke-width="0.17">Read length</text>
<rect x="242.45" y="732.93" width="8.6" height="21.78" fill="#7dd3f5" stroke="#68b2cf" stroke-width="0.5"/>
<rect x="255.55" y="738.05" width="8.6" height="16.65" fill="#78e664" stroke="#64c254" stroke-width="0.5"/>
<rect x="269.15" y="685.31" width="8.6" height="69.39" fill="#4682e6" stroke="#3b6ec4" stroke-width="0.5"/>
<rect x="282.55" y="741.28" width="8.6" height="13.42" fill="#328c23" stroke="#2a771d" stroke-width="0.5"/>
<line x1="238" y1="666.35" x2="238" y2="755.15" stroke="#111111" stroke-width="0.9"/>
<line x1="237.55" y1="754.7" x2="295.3" y2="754.7" stroke="#111111" stroke-width="0.9"/>
<line x1="234.3" y1="754.7" x2="238" y2="754.7" stroke="#111111" stroke-width="0.9"/>
<text x="233.15" y="756.99" font-size="6.4" font-weight="bold" text-anchor="end" stroke="#111111" stroke-width="0.17">0</text>
<line x1="234.3" y1="725.4" x2="238" y2="725.4" stroke="#111111" stroke-width="0.9"/>
<text x="233.15" y="727.69" font-size="6.4" font-weight="bold" text-anchor="end" stroke="#111111" stroke-width="0.17">2</text>
<line x1="234.3" y1="696.1" x2="238" y2="696.1" stroke="#111111" stroke-width="0.9"/>
<text x="233.15" y="698.39" font-size="6.4" font-weight="bold" text-anchor="end" stroke="#111111" stroke-width="0.17">4</text>
<line x1="234.3" y1="666.8" x2="238" y2="666.8" stroke="#111111" stroke-width="0.9"/>
<text x="233.15" y="669.09" font-size="6.4" font-weight="bold" text-anchor="end" stroke="#111111" stroke-width="0.17">6</text>
<text x="225.49" y="710.75" font-size="7" font-weight="bold" text-anchor="middle" transform="rotate(-90 225.49 710.75)" stroke="#111111" stroke-width="0.17">Kilobase-scale deletion (%)</text>
<line x1="246.75" y1="754.7" x2="246.75" y2="758.3" stroke="#111111" stroke-width="1"/>
<line x1="259.85" y1="754.7" x2="259.85" y2="758.3" stroke="#111111" stroke-width="1"/>
<line x1="273.45" y1="754.7" x2="273.45" y2="758.3" stroke="#111111" stroke-width="1"/>
<line x1="286.85" y1="754.7" x2="286.85" y2="758.3" stroke="#111111" stroke-width="1"/>
<text x="233.6" y="766.73" font-size="6.5" font-weight="bold" text-anchor="end" stroke="#111111" stroke-width="0.17">Cas9</text>
<circle cx="246.8" cy="764.4" r="1.45" fill="#111"/>
<circle cx="259.9" cy="764.4" r="1.45" fill="#111"/>
<circle cx="273.5" cy="764.4" r="1.45" fill="#111"/>
<circle cx="286.9" cy="764.4" r="1.45" fill="#111"/>
<text x="233.6" y="774.33" font-size="6.5" font-weight="bold" text-anchor="end" stroke="#111111" stroke-width="0.17">ssODN</text>
<circle cx="246.8" cy="772" r="1.45" fill="#111"/>
<circle cx="259.9" cy="772" r="1.45" fill="#111"/>
<circle cx="273.5" cy="772" r="1.45" fill="#111"/>
<circle cx="286.9" cy="772" r="1.45" fill="#111"/>
<text x="233.6" y="781.93" font-size="6.5" font-weight="bold" text-anchor="end" stroke="#111111" stroke-width="0.17">PolQi2</text>
<circle cx="259.9" cy="779.6" r="1.45" fill="#111"/>
<circle cx="286.9" cy="779.6" r="1.45" fill="#111"/>
<text x="233.6" y="789.43" font-size="6.5" font-weight="bold" text-anchor="end" stroke="#111111" stroke-width="0.17">AZD7648</text>
<circle cx="273.5" cy="787.1" r="1.45" fill="#111"/>
<circle cx="286.9" cy="787.1" r="1.45" fill="#111"/>
<text x="413.3" y="654.6" font-size="7.1" font-weight="bold" text-anchor="middle" font-style="italic" stroke="#111111" stroke-width="0.17">CCR5</text>
<path d="M340.3 668.6 C345.25 668.62 362.88 668.63 370 668.7 C377.12 668.77 379.65 668.82 383 669 C386.35 669.18 388.92 669.67 390.1 669.8 L390.75 670.6" fill="none" stroke="#cdc9dc" stroke-width="0.8" stroke-linejoin="round"/>
<path d="M340.3 668.6 C342.75 668.62 351.38 668.65 355 668.7 C358.62 668.75 359.45 668.58 362 668.9 C364.55 669.22 367.75 669.9 370.3 670.6 C372.85 671.3 374.98 671.98 377.3 673.1 C379.62 674.22 382.07 675.92 384.2 677.3 C386.33 678.68 389.12 680.72 390.1 681.4 L390.75 682.2" fill="none" stroke="#3f7fe4" stroke-width="1.15" stroke-linejoin="round"/>
<path d="M340.3 668.6 C345.25 668.65 363.05 668.73 370 668.9 C376.95 669.07 378.65 669.25 382 669.6 C385.35 669.95 388.75 670.77 390.1 671 L390.75 671.8" fill="none" stroke="#3a8f2b" stroke-width="0.9" stroke-linejoin="round"/>
<path d="M340.3 668.6 C345.25 668.67 363.05 668.78 370 669 C376.95 669.22 378.65 669.47 382 669.9 C385.35 670.33 388.75 671.32 390.1 671.6 L390.75 672.4" fill="none" stroke="#8eea7c" stroke-width="0.9" stroke-linejoin="round"/>
<path d="M340.3 668.6 C345.25 668.67 363.05 668.77 370 669 C376.95 669.23 378.65 669.5 382 670 C385.35 670.5 388.75 671.67 390.1 672 L390.75 672.8" fill="none" stroke="#8fdaf3" stroke-width="1.25" stroke-linejoin="round"/>
<path d="M390.75 672.4 V754.6" fill="none" stroke="#8fdaf3" stroke-width="0.85"/>
<path d="M390.75 672 V672.4" fill="none" stroke="#8eea7c" stroke-width="0.85"/>
<path d="M390.75 671.4 V672" fill="none" stroke="#3a8f2b" stroke-width="0.85"/>
<path d="M390.75 670.2 V671.4" fill="none" stroke="#cdc9dc" stroke-width="0.85"/>
<line x1="340.3" y1="668.25" x2="340.3" y2="755.05" stroke="#111111" stroke-width="0.9"/>
<line x1="339.85" y1="754.6" x2="397.85" y2="754.6" stroke="#111111" stroke-width="0.9"/>
<line x1="336.3" y1="754.6" x2="340.3" y2="754.6" stroke="#111111" stroke-width="0.9"/>
<text x="335.15" y="756.89" font-size="6.4" font-weight="bold" text-anchor="end" stroke="#111111" stroke-width="0.17">0</text>
<line x1="336.3" y1="737.42" x2="340.3" y2="737.42" stroke="#111111" stroke-width="0.9"/>
<text x="335.15" y="739.71" font-size="6.4" font-weight="bold" text-anchor="end" stroke="#111111" stroke-width="0.17">20</text>
<line x1="336.3" y1="720.24" x2="340.3" y2="720.24" stroke="#111111" stroke-width="0.9"/>
<text x="335.15" y="722.53" font-size="6.4" font-weight="bold" text-anchor="end" stroke="#111111" stroke-width="0.17">40</text>
<line x1="336.3" y1="703.06" x2="340.3" y2="703.06" stroke="#111111" stroke-width="0.9"/>
<text x="335.15" y="705.35" font-size="6.4" font-weight="bold" text-anchor="end" stroke="#111111" stroke-width="0.17">60</text>
<line x1="336.3" y1="685.88" x2="340.3" y2="685.88" stroke="#111111" stroke-width="0.9"/>
<text x="335.15" y="688.17" font-size="6.4" font-weight="bold" text-anchor="end" stroke="#111111" stroke-width="0.17">80</text>
<line x1="336.3" y1="668.7" x2="340.3" y2="668.7" stroke="#111111" stroke-width="0.9"/>
<text x="335.15" y="670.99" font-size="6.4" font-weight="bold" text-anchor="end" stroke="#111111" stroke-width="0.17">100</text>
<text x="320" y="711.65" font-size="7.05" font-weight="bold" text-anchor="middle" transform="rotate(-90 320 711.65)" stroke="#111111" stroke-width="0.17">Percent of total reads</text>
<line x1="351.6" y1="754.6" x2="351.6" y2="758.1" stroke="#111111" stroke-width="1"/>
<text x="351.6" y="765.5" font-size="6.55" font-weight="bold" text-anchor="middle" stroke="#111111" stroke-width="0.17">1kb</text>
<line x1="374.5" y1="754.6" x2="374.5" y2="758.1" stroke="#111111" stroke-width="1"/>
<text x="374.5" y="765.5" font-size="6.55" font-weight="bold" text-anchor="middle" stroke="#111111" stroke-width="0.17">3kb</text>
<line x1="397.4" y1="754.6" x2="397.4" y2="758.1" stroke="#111111" stroke-width="1"/>
<text x="397.4" y="765.5" font-size="6.55" font-weight="bold" text-anchor="middle" stroke="#111111" stroke-width="0.17">5kb</text>
<text x="368.9" y="776" font-size="7.1" font-weight="bold" text-anchor="middle" stroke="#111111" stroke-width="0.17">Read length</text>
<rect x="440.55" y="734.36" width="8.6" height="20.34" fill="#7dd3f5" stroke="#68b2cf" stroke-width="0.5"/>
<rect x="453.75" y="740.2" width="8.6" height="14.51" fill="#78e664" stroke="#64c254" stroke-width="0.5"/>
<rect x="467.35" y="680.62" width="8.6" height="74.08" fill="#4682e6" stroke="#3b6ec4" stroke-width="0.5"/>
<rect x="480.65" y="743.87" width="8.6" height="10.83" fill="#328c23" stroke="#2a771d" stroke-width="0.5"/>
<line x1="435.9" y1="667.75" x2="435.9" y2="755.15" stroke="#111111" stroke-width="0.9"/>
<line x1="435.45" y1="754.7" x2="493.6" y2="754.7" stroke="#111111" stroke-width="0.9"/>
<line x1="432.2" y1="754.7" x2="435.9" y2="754.7" stroke="#111111" stroke-width="0.9"/>
<text x="431.05" y="756.99" font-size="6.4" font-weight="bold" text-anchor="end" stroke="#111111" stroke-width="0.17">0</text>
<line x1="432.2" y1="733.08" x2="435.9" y2="733.08" stroke="#111111" stroke-width="0.9"/>
<text x="431.05" y="735.37" font-size="6.4" font-weight="bold" text-anchor="end" stroke="#111111" stroke-width="0.17">2</text>
<line x1="432.2" y1="711.45" x2="435.9" y2="711.45" stroke="#111111" stroke-width="0.9"/>
<text x="431.05" y="713.74" font-size="6.4" font-weight="bold" text-anchor="end" stroke="#111111" stroke-width="0.17">4</text>
<line x1="432.2" y1="689.83" x2="435.9" y2="689.83" stroke="#111111" stroke-width="0.9"/>
<text x="431.05" y="692.12" font-size="6.4" font-weight="bold" text-anchor="end" stroke="#111111" stroke-width="0.17">6</text>
<line x1="432.2" y1="668.2" x2="435.9" y2="668.2" stroke="#111111" stroke-width="0.9"/>
<text x="431.05" y="670.49" font-size="6.4" font-weight="bold" text-anchor="end" stroke="#111111" stroke-width="0.17">8</text>
<text x="423.38" y="711.45" font-size="7" font-weight="bold" text-anchor="middle" transform="rotate(-90 423.38 711.45)" stroke="#111111" stroke-width="0.17">Kilobase-scale deletion (%)</text>
<line x1="444.85" y1="754.7" x2="444.85" y2="758.3" stroke="#111111" stroke-width="1"/>
<line x1="458.05" y1="754.7" x2="458.05" y2="758.3" stroke="#111111" stroke-width="1"/>
<line x1="471.65" y1="754.7" x2="471.65" y2="758.3" stroke="#111111" stroke-width="1"/>
<line x1="484.95" y1="754.7" x2="484.95" y2="758.3" stroke="#111111" stroke-width="1"/>
<text x="431.6" y="766.03" font-size="6.5" font-weight="bold" text-anchor="end" stroke="#111111" stroke-width="0.17">Cas9</text>
<circle cx="444.9" cy="763.7" r="1.45" fill="#111"/>
<circle cx="458.1" cy="763.7" r="1.45" fill="#111"/>
<circle cx="471.7" cy="763.7" r="1.45" fill="#111"/>
<circle cx="485" cy="763.7" r="1.45" fill="#111"/>
<text x="431.6" y="773.63" font-size="6.5" font-weight="bold" text-anchor="end" stroke="#111111" stroke-width="0.17">ssODN</text>
<circle cx="444.9" cy="771.3" r="1.45" fill="#111"/>
<circle cx="458.1" cy="771.3" r="1.45" fill="#111"/>
<circle cx="471.7" cy="771.3" r="1.45" fill="#111"/>
<circle cx="485" cy="771.3" r="1.45" fill="#111"/>
<text x="431.6" y="781.23" font-size="6.5" font-weight="bold" text-anchor="end" stroke="#111111" stroke-width="0.17">PolQi2</text>
<circle cx="458.1" cy="778.9" r="1.45" fill="#111"/>
<circle cx="485" cy="778.9" r="1.45" fill="#111"/>
<text x="431.6" y="788.73" font-size="6.5" font-weight="bold" text-anchor="end" stroke="#111111" stroke-width="0.17">AZD7648</text>
<circle cx="471.7" cy="786.4" r="1.45" fill="#111"/>
<circle cx="485" cy="786.4" r="1.45" fill="#111"/>
<text x="601" y="654.6" font-size="7.1" font-weight="bold" text-anchor="middle" font-style="italic" stroke="#111111" stroke-width="0.17">GAPDH</text>
<path d="M531.7 668.5 C534.02 668.68 541.67 669.07 545.6 669.6 C549.53 670.13 552.28 670.65 555.3 671.7 C558.32 672.75 560.92 674.52 563.7 675.9 C566.48 677.28 569.68 678.85 572 680 C574.32 681.15 576.25 681.75 577.6 682.8 C578.95 683.85 579.68 685.72 580.1 686.3 L580.55 687.1" fill="none" stroke="#3f7fe4" stroke-width="1.15" stroke-linejoin="round"/>
<path d="M531.7 668.5 C533.92 668.65 540.83 668.98 545 669.4 C549.17 669.82 552.43 670.5 556.7 671 C560.97 671.5 566.7 671.93 570.6 672.4 C574.5 672.87 578.52 673.57 580.1 673.8 L580.55 674.6" fill="none" stroke="#8fdaf3" stroke-width="0.9" stroke-linejoin="round"/>
<path d="M531.7 668.5 C534.75 668.62 543.95 668.88 550 669.2 C556.05 669.52 562.98 670.03 568 670.4 C573.02 670.77 578.08 671.23 580.1 671.4 L580.55 672.2" fill="none" stroke="#8eea7c" stroke-width="0.9" stroke-linejoin="round"/>
<path d="M531.7 668.5 C534.75 668.57 543.95 668.72 550 668.9 C556.05 669.08 562.98 669.37 568 669.6 C573.02 669.83 578.08 670.18 580.1 670.3 L580.55 671.1" fill="none" stroke="#3a8f2b" stroke-width="0.9" stroke-linejoin="round"/>
<path d="M531.7 668.5 C536.42 668.5 551.95 668.48 560 668.5 C568.05 668.52 576.6 668.35 580 668.6 C583.4 668.85 580.33 669.77 580.4 670 L580.55 670.8" fill="none" stroke="#cdc9dc" stroke-width="0.9" stroke-linejoin="round"/>
<path d="M580.55 670.4 V754.7" fill="none" stroke="#cdc9dc" stroke-width="0.85"/>
<line x1="528.1" y1="668.05" x2="528.1" y2="755.15" stroke="#111111" stroke-width="0.9"/>
<line x1="527.65" y1="754.7" x2="585.95" y2="754.7" stroke="#111111" stroke-width="0.9"/>
<line x1="524.1" y1="754.7" x2="528.1" y2="754.7" stroke="#111111" stroke-width="0.9"/>
<text x="522.95" y="756.99" font-size="6.4" font-weight="bold" text-anchor="end" stroke="#111111" stroke-width="0.17">0</text>
<line x1="524.1" y1="737.46" x2="528.1" y2="737.46" stroke="#111111" stroke-width="0.9"/>
<text x="522.95" y="739.75" font-size="6.4" font-weight="bold" text-anchor="end" stroke="#111111" stroke-width="0.17">20</text>
<line x1="524.1" y1="720.22" x2="528.1" y2="720.22" stroke="#111111" stroke-width="0.9"/>
<text x="522.95" y="722.51" font-size="6.4" font-weight="bold" text-anchor="end" stroke="#111111" stroke-width="0.17">40</text>
<line x1="524.1" y1="702.98" x2="528.1" y2="702.98" stroke="#111111" stroke-width="0.9"/>
<text x="522.95" y="705.27" font-size="6.4" font-weight="bold" text-anchor="end" stroke="#111111" stroke-width="0.17">60</text>
<line x1="524.1" y1="685.74" x2="528.1" y2="685.74" stroke="#111111" stroke-width="0.9"/>
<text x="522.95" y="688.03" font-size="6.4" font-weight="bold" text-anchor="end" stroke="#111111" stroke-width="0.17">80</text>
<line x1="524.1" y1="668.5" x2="528.1" y2="668.5" stroke="#111111" stroke-width="0.9"/>
<text x="522.95" y="670.79" font-size="6.4" font-weight="bold" text-anchor="end" stroke="#111111" stroke-width="0.17">100</text>
<text x="507.8" y="711.6" font-size="7.05" font-weight="bold" text-anchor="middle" transform="rotate(-90 507.8 711.6)" stroke="#111111" stroke-width="0.17">Percent of total reads</text>
<line x1="539.6" y1="754.7" x2="539.6" y2="758.2" stroke="#111111" stroke-width="1"/>
<text x="539.6" y="765.6" font-size="6.55" font-weight="bold" text-anchor="middle" stroke="#111111" stroke-width="0.17">1kb</text>
<line x1="562.5" y1="754.7" x2="562.5" y2="758.2" stroke="#111111" stroke-width="1"/>
<text x="562.5" y="765.6" font-size="6.55" font-weight="bold" text-anchor="middle" stroke="#111111" stroke-width="0.17">3kb</text>
<line x1="585.5" y1="754.7" x2="585.5" y2="758.2" stroke="#111111" stroke-width="1"/>
<text x="585.5" y="765.6" font-size="6.55" font-weight="bold" text-anchor="middle" stroke="#111111" stroke-width="0.17">5kb</text>
<text x="556.4" y="774.9" font-size="7.1" font-weight="bold" text-anchor="middle" stroke="#111111" stroke-width="0.17">Read length</text>
<rect x="629.45" y="728.79" width="8.7" height="26.01" fill="#7dd3f5" stroke="#68b2cf" stroke-width="0.5"/>
<rect x="642.65" y="748.38" width="8.7" height="6.42" fill="#78e664" stroke="#64c254" stroke-width="0.5"/>
<rect x="655.95" y="686.46" width="8.7" height="68.34" fill="#4682e6" stroke="#3b6ec4" stroke-width="0.5"/>
<rect x="669.25" y="745.21" width="8.7" height="9.59" fill="#328c23" stroke="#2a771d" stroke-width="0.5"/>
<line x1="624.9" y1="667.95" x2="624.9" y2="755.25" stroke="#111111" stroke-width="0.9"/>
<line x1="624.45" y1="754.8" x2="682.5" y2="754.8" stroke="#111111" stroke-width="0.9"/>
<line x1="621.2" y1="754.8" x2="624.9" y2="754.8" stroke="#111111" stroke-width="0.9"/>
<text x="620.05" y="757.09" font-size="6.4" font-weight="bold" text-anchor="end" stroke="#111111" stroke-width="0.17">0</text>
<line x1="621.2" y1="726" x2="624.9" y2="726" stroke="#111111" stroke-width="0.9"/>
<text x="620.05" y="728.29" font-size="6.4" font-weight="bold" text-anchor="end" stroke="#111111" stroke-width="0.17">5</text>
<line x1="621.2" y1="697.2" x2="624.9" y2="697.2" stroke="#111111" stroke-width="0.9"/>
<text x="620.05" y="699.49" font-size="6.4" font-weight="bold" text-anchor="end" stroke="#111111" stroke-width="0.17">10</text>
<line x1="621.2" y1="668.4" x2="624.9" y2="668.4" stroke="#111111" stroke-width="0.9"/>
<text x="620.05" y="670.69" font-size="6.4" font-weight="bold" text-anchor="end" stroke="#111111" stroke-width="0.17">15</text>
<text x="609.18" y="711.6" font-size="7" font-weight="bold" text-anchor="middle" transform="rotate(-90 609.18 711.6)" stroke="#111111" stroke-width="0.17">Kilobase-scale deletion (%)</text>
<line x1="633.8" y1="754.8" x2="633.8" y2="758.4" stroke="#111111" stroke-width="1"/>
<line x1="647" y1="754.8" x2="647" y2="758.4" stroke="#111111" stroke-width="1"/>
<line x1="660.3" y1="754.8" x2="660.3" y2="758.4" stroke="#111111" stroke-width="1"/>
<line x1="673.6" y1="754.8" x2="673.6" y2="758.4" stroke="#111111" stroke-width="1"/>
<text x="620.6" y="765.73" font-size="6.5" font-weight="bold" text-anchor="end" stroke="#111111" stroke-width="0.17">Cas9</text>
<circle cx="633.8" cy="763.4" r="1.45" fill="#111"/>
<circle cx="647" cy="763.4" r="1.45" fill="#111"/>
<circle cx="660.3" cy="763.4" r="1.45" fill="#111"/>
<circle cx="673.6" cy="763.4" r="1.45" fill="#111"/>
<text x="620.6" y="773.93" font-size="6.5" font-weight="bold" text-anchor="end" stroke="#111111" stroke-width="0.17">ssODN</text>
<circle cx="633.8" cy="771.6" r="1.45" fill="#111"/>
<circle cx="647" cy="771.6" r="1.45" fill="#111"/>
<circle cx="660.3" cy="771.6" r="1.45" fill="#111"/>
<circle cx="673.6" cy="771.6" r="1.45" fill="#111"/>
<text x="620.6" y="782.13" font-size="6.5" font-weight="bold" text-anchor="end" stroke="#111111" stroke-width="0.17">AZD7648</text>
<circle cx="660.3" cy="779.8" r="1.45" fill="#111"/>
<circle cx="673.6" cy="779.8" r="1.45" fill="#111"/>
<text x="620.6" y="790.13" font-size="6.5" font-weight="bold" text-anchor="end" stroke="#111111" stroke-width="0.17">PolQi2</text>
<circle cx="647" cy="787.8" r="1.45" fill="#111"/>
<circle cx="673.6" cy="787.8" r="1.45" fill="#111"/>
</svg>
</body>
</html>
